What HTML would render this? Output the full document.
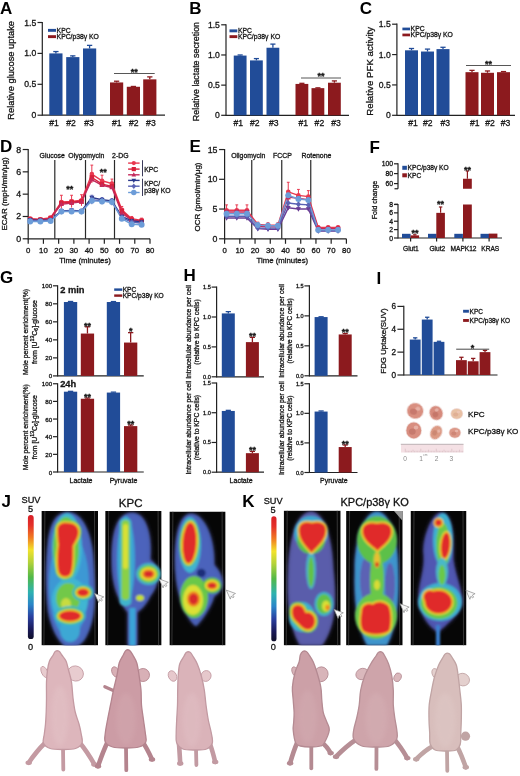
<!DOCTYPE html>
<html><head><meta charset="utf-8"><title>Figure</title>
<style>html,body{margin:0;padding:0;background:#fff;}svg{display:block;font-family:'Liberation Sans', Arial, sans-serif;} text{stroke:#1a1a1a;stroke-width:0.3px;paint-order:stroke;}</style>
</head><body>
<svg width="520" height="776" viewBox="0 0 520 776">

<defs>
<linearGradient id="cbar" x1="0" y1="0" x2="0" y2="1">
 <stop offset="0" stop-color="#d81f26"/>
 <stop offset="0.08" stop-color="#e4302a"/>
 <stop offset="0.18" stop-color="#f07a22"/>
 <stop offset="0.28" stop-color="#f2e22c"/>
 <stop offset="0.38" stop-color="#b4d23a"/>
 <stop offset="0.50" stop-color="#52b848"/>
 <stop offset="0.62" stop-color="#2eb2b0"/>
 <stop offset="0.72" stop-color="#2a86c8"/>
 <stop offset="0.82" stop-color="#2a40a0"/>
 <stop offset="0.92" stop-color="#1a1a5a"/>
 <stop offset="1" stop-color="#10102a"/>
</linearGradient>
<filter id="bl1" x="-20%" y="-20%" width="140%" height="140%"><feGaussianBlur stdDeviation="1.1"/></filter>
<filter id="bl2" x="-20%" y="-20%" width="140%" height="140%"><feGaussianBlur stdDeviation="2.2"/></filter>
<filter id="bl05" x="-20%" y="-20%" width="140%" height="140%"><feGaussianBlur stdDeviation="0.6"/></filter>
</defs>

<rect width="520" height="776" fill="#fff"/>
<line x1="42.30" y1="21.90" x2="42.30" y2="115.80" stroke="#222" stroke-width="1.2"/>
<line x1="37.50" y1="115.20" x2="42.30" y2="115.20" stroke="#222" stroke-width="1.2"/>
<text x="36.20" y="115.20" font-size="8.6" text-anchor="end" dominant-baseline="central" fill="#141414">0</text>
<line x1="37.50" y1="84.30" x2="42.30" y2="84.30" stroke="#222" stroke-width="1.2"/>
<text x="36.20" y="84.30" font-size="8.6" text-anchor="end" dominant-baseline="central" fill="#141414">0.5</text>
<line x1="37.50" y1="53.40" x2="42.30" y2="53.40" stroke="#222" stroke-width="1.2"/>
<text x="36.20" y="53.40" font-size="8.6" text-anchor="end" dominant-baseline="central" fill="#141414">1.0</text>
<line x1="37.50" y1="22.50" x2="42.30" y2="22.50" stroke="#222" stroke-width="1.2"/>
<text x="36.20" y="22.50" font-size="8.6" text-anchor="end" dominant-baseline="central" fill="#141414">1.5</text>
<line x1="42.30" y1="115.20" x2="165.00" y2="115.20" stroke="#222" stroke-width="1.2"/>
<rect x="49.30" y="53.40" width="13.20" height="61.80" fill="#214c98"/>
<line x1="55.90" y1="51.55" x2="55.90" y2="53.40" stroke="#214c98" stroke-width="1.3"/>
<line x1="53.26" y1="51.55" x2="58.54" y2="51.55" stroke="#214c98" stroke-width="1.3"/>
<text x="54.10" y="123.10" font-size="8.6" text-anchor="middle" dominant-baseline="central" fill="#141414">#1</text>
<rect x="66.20" y="57.11" width="13.20" height="58.09" fill="#214c98"/>
<line x1="72.80" y1="55.87" x2="72.80" y2="57.11" stroke="#214c98" stroke-width="1.3"/>
<line x1="70.16" y1="55.87" x2="75.44" y2="55.87" stroke="#214c98" stroke-width="1.3"/>
<text x="71.10" y="123.10" font-size="8.6" text-anchor="middle" dominant-baseline="central" fill="#141414">#2</text>
<rect x="83.00" y="48.46" width="13.20" height="66.74" fill="#214c98"/>
<line x1="89.60" y1="45.37" x2="89.60" y2="48.46" stroke="#214c98" stroke-width="1.3"/>
<line x1="86.96" y1="45.37" x2="92.24" y2="45.37" stroke="#214c98" stroke-width="1.3"/>
<text x="89.00" y="123.10" font-size="8.6" text-anchor="middle" dominant-baseline="central" fill="#141414">#3</text>
<rect x="110.00" y="82.45" width="13.20" height="32.75" fill="#8c1a1e"/>
<line x1="116.60" y1="81.21" x2="116.60" y2="82.45" stroke="#8c1a1e" stroke-width="1.3"/>
<line x1="113.96" y1="81.21" x2="119.24" y2="81.21" stroke="#8c1a1e" stroke-width="1.3"/>
<text x="116.80" y="123.10" font-size="8.6" text-anchor="middle" dominant-baseline="central" fill="#141414">#1</text>
<rect x="126.80" y="86.77" width="13.20" height="28.43" fill="#8c1a1e"/>
<line x1="133.40" y1="86.46" x2="133.40" y2="86.77" stroke="#8c1a1e" stroke-width="1.3"/>
<line x1="130.76" y1="86.46" x2="136.04" y2="86.46" stroke="#8c1a1e" stroke-width="1.3"/>
<text x="133.80" y="123.10" font-size="8.6" text-anchor="middle" dominant-baseline="central" fill="#141414">#2</text>
<rect x="143.20" y="79.36" width="13.20" height="35.84" fill="#8c1a1e"/>
<line x1="149.80" y1="76.88" x2="149.80" y2="79.36" stroke="#8c1a1e" stroke-width="1.3"/>
<line x1="147.16" y1="76.88" x2="152.44" y2="76.88" stroke="#8c1a1e" stroke-width="1.3"/>
<text x="150.90" y="123.10" font-size="8.6" text-anchor="middle" dominant-baseline="central" fill="#141414">#3</text>
<line x1="114.00" y1="73.50" x2="154.70" y2="73.50" stroke="#444" stroke-width="0.9"/>
<text x="134.35" y="71.88" font-size="9" text-anchor="middle" dominant-baseline="central" font-weight="bold" fill="#111" class="st">**</text>
<text x="11.20" y="70.35" font-size="9.3" text-anchor="middle" dominant-baseline="central" fill="#141414" transform="rotate(-90 11.20 70.35)">Relative glucose uptake</text>
<rect x="48.00" y="28.90" width="8.00" height="2.90" fill="#214c98"/>
<text x="56.60" y="30.35" font-size="6.8" text-anchor="start" dominant-baseline="central" fill="#141414">KPC</text>
<rect x="48.00" y="35.20" width="8.00" height="2.90" fill="#8c1a1e"/>
<text x="56.60" y="36.65" font-size="6.8" text-anchor="start" dominant-baseline="central" fill="#141414">KPC/p38&#947; KO</text>
<text x="0" y="13.9" font-size="17" font-weight="bold" fill="#000" style="stroke:none">A</text>
<line x1="226.00" y1="24.20" x2="226.00" y2="115.90" stroke="#222" stroke-width="1.2"/>
<line x1="221.20" y1="115.30" x2="226.00" y2="115.30" stroke="#222" stroke-width="1.2"/>
<text x="219.90" y="115.30" font-size="8.6" text-anchor="end" dominant-baseline="central" fill="#141414">0</text>
<line x1="221.20" y1="85.13" x2="226.00" y2="85.13" stroke="#222" stroke-width="1.2"/>
<text x="219.90" y="85.13" font-size="8.6" text-anchor="end" dominant-baseline="central" fill="#141414">0.5</text>
<line x1="221.20" y1="54.97" x2="226.00" y2="54.97" stroke="#222" stroke-width="1.2"/>
<text x="219.90" y="54.97" font-size="8.6" text-anchor="end" dominant-baseline="central" fill="#141414">1.0</text>
<line x1="221.20" y1="24.80" x2="226.00" y2="24.80" stroke="#222" stroke-width="1.2"/>
<text x="219.90" y="24.80" font-size="8.6" text-anchor="end" dominant-baseline="central" fill="#141414">1.5</text>
<line x1="226.00" y1="115.30" x2="349.00" y2="115.30" stroke="#222" stroke-width="1.2"/>
<rect x="233.75" y="55.57" width="12.80" height="59.73" fill="#214c98"/>
<line x1="240.15" y1="54.97" x2="240.15" y2="55.57" stroke="#214c98" stroke-width="1.3"/>
<line x1="237.59" y1="54.97" x2="242.71" y2="54.97" stroke="#214c98" stroke-width="1.3"/>
<text x="238.30" y="123.10" font-size="8.6" text-anchor="middle" dominant-baseline="central" fill="#141414">#1</text>
<rect x="250.00" y="60.40" width="12.80" height="54.90" fill="#214c98"/>
<line x1="256.40" y1="58.59" x2="256.40" y2="60.40" stroke="#214c98" stroke-width="1.3"/>
<line x1="253.84" y1="58.59" x2="258.96" y2="58.59" stroke="#214c98" stroke-width="1.3"/>
<text x="254.70" y="123.10" font-size="8.6" text-anchor="middle" dominant-baseline="central" fill="#141414">#2</text>
<rect x="266.50" y="47.73" width="12.80" height="67.57" fill="#214c98"/>
<line x1="272.90" y1="44.11" x2="272.90" y2="47.73" stroke="#214c98" stroke-width="1.3"/>
<line x1="270.34" y1="44.11" x2="275.46" y2="44.11" stroke="#214c98" stroke-width="1.3"/>
<text x="273.70" y="123.10" font-size="8.6" text-anchor="middle" dominant-baseline="central" fill="#141414">#3</text>
<rect x="295.50" y="83.93" width="12.80" height="31.37" fill="#8c1a1e"/>
<line x1="301.90" y1="83.32" x2="301.90" y2="83.93" stroke="#8c1a1e" stroke-width="1.3"/>
<line x1="299.34" y1="83.32" x2="304.46" y2="83.32" stroke="#8c1a1e" stroke-width="1.3"/>
<text x="303.30" y="123.10" font-size="8.6" text-anchor="middle" dominant-baseline="central" fill="#141414">#1</text>
<rect x="311.50" y="88.15" width="12.80" height="27.15" fill="#8c1a1e"/>
<line x1="317.90" y1="87.85" x2="317.90" y2="88.15" stroke="#8c1a1e" stroke-width="1.3"/>
<line x1="315.34" y1="87.85" x2="320.46" y2="87.85" stroke="#8c1a1e" stroke-width="1.3"/>
<text x="319.40" y="123.10" font-size="8.6" text-anchor="middle" dominant-baseline="central" fill="#141414">#2</text>
<rect x="328.00" y="82.72" width="12.80" height="32.58" fill="#8c1a1e"/>
<line x1="334.40" y1="80.91" x2="334.40" y2="82.72" stroke="#8c1a1e" stroke-width="1.3"/>
<line x1="331.84" y1="80.91" x2="336.96" y2="80.91" stroke="#8c1a1e" stroke-width="1.3"/>
<text x="336.00" y="123.10" font-size="8.6" text-anchor="middle" dominant-baseline="central" fill="#141414">#3</text>
<line x1="301.00" y1="78.00" x2="341.00" y2="78.00" stroke="#444" stroke-width="0.9"/>
<text x="321.00" y="76.38" font-size="9" text-anchor="middle" dominant-baseline="central" font-weight="bold" fill="#111" class="st">**</text>
<text x="196.20" y="71.55" font-size="8.9" text-anchor="middle" dominant-baseline="central" fill="#141414" transform="rotate(-90 196.20 71.55)">Relative lactate secretion</text>
<rect x="229.50" y="29.40" width="7.80" height="2.90" fill="#214c98"/>
<text x="237.90" y="30.85" font-size="6.8" text-anchor="start" dominant-baseline="central" fill="#141414">KPC</text>
<rect x="229.50" y="35.20" width="7.80" height="2.90" fill="#8c1a1e"/>
<text x="237.90" y="36.65" font-size="6.8" text-anchor="start" dominant-baseline="central" fill="#141414">KPC/p38&#947; KO</text>
<text x="189.2" y="13.9" font-size="17" font-weight="bold" fill="#000" style="stroke:none">B</text>
<line x1="396.90" y1="23.60" x2="396.90" y2="115.90" stroke="#222" stroke-width="1.2"/>
<line x1="392.10" y1="115.30" x2="396.90" y2="115.30" stroke="#222" stroke-width="1.2"/>
<text x="390.80" y="115.30" font-size="8.6" text-anchor="end" dominant-baseline="central" fill="#141414">0</text>
<line x1="392.10" y1="84.93" x2="396.90" y2="84.93" stroke="#222" stroke-width="1.2"/>
<text x="390.80" y="84.93" font-size="8.6" text-anchor="end" dominant-baseline="central" fill="#141414">0.5</text>
<line x1="392.10" y1="54.57" x2="396.90" y2="54.57" stroke="#222" stroke-width="1.2"/>
<text x="390.80" y="54.57" font-size="8.6" text-anchor="end" dominant-baseline="central" fill="#141414">1.0</text>
<line x1="392.10" y1="24.20" x2="396.90" y2="24.20" stroke="#222" stroke-width="1.2"/>
<text x="390.80" y="24.20" font-size="8.6" text-anchor="end" dominant-baseline="central" fill="#141414">1.5</text>
<line x1="396.90" y1="115.30" x2="515.00" y2="115.30" stroke="#222" stroke-width="1.2"/>
<rect x="405.00" y="50.32" width="13.00" height="64.98" fill="#214c98"/>
<line x1="411.50" y1="48.49" x2="411.50" y2="50.32" stroke="#214c98" stroke-width="1.3"/>
<line x1="408.90" y1="48.49" x2="414.10" y2="48.49" stroke="#214c98" stroke-width="1.3"/>
<text x="413.00" y="123.10" font-size="8.6" text-anchor="middle" dominant-baseline="central" fill="#141414">#1</text>
<rect x="421.00" y="51.53" width="13.00" height="63.77" fill="#214c98"/>
<line x1="427.50" y1="49.10" x2="427.50" y2="51.53" stroke="#214c98" stroke-width="1.3"/>
<line x1="424.90" y1="49.10" x2="430.10" y2="49.10" stroke="#214c98" stroke-width="1.3"/>
<text x="427.70" y="123.10" font-size="8.6" text-anchor="middle" dominant-baseline="central" fill="#141414">#2</text>
<rect x="436.50" y="49.10" width="13.00" height="66.20" fill="#214c98"/>
<line x1="443.00" y1="47.28" x2="443.00" y2="49.10" stroke="#214c98" stroke-width="1.3"/>
<line x1="440.40" y1="47.28" x2="445.60" y2="47.28" stroke="#214c98" stroke-width="1.3"/>
<text x="445.30" y="123.10" font-size="8.6" text-anchor="middle" dominant-baseline="central" fill="#141414">#3</text>
<rect x="465.50" y="72.18" width="13.00" height="43.12" fill="#8c1a1e"/>
<line x1="472.00" y1="70.36" x2="472.00" y2="72.18" stroke="#8c1a1e" stroke-width="1.3"/>
<line x1="469.40" y1="70.36" x2="474.60" y2="70.36" stroke="#8c1a1e" stroke-width="1.3"/>
<text x="474.70" y="123.10" font-size="8.6" text-anchor="middle" dominant-baseline="central" fill="#141414">#1</text>
<rect x="481.00" y="72.79" width="13.00" height="42.51" fill="#8c1a1e"/>
<line x1="487.50" y1="70.96" x2="487.50" y2="72.79" stroke="#8c1a1e" stroke-width="1.3"/>
<line x1="484.90" y1="70.96" x2="490.10" y2="70.96" stroke="#8c1a1e" stroke-width="1.3"/>
<text x="490.00" y="123.10" font-size="8.6" text-anchor="middle" dominant-baseline="central" fill="#141414">#2</text>
<rect x="497.00" y="72.18" width="13.00" height="43.12" fill="#8c1a1e"/>
<line x1="503.50" y1="71.57" x2="503.50" y2="72.18" stroke="#8c1a1e" stroke-width="1.3"/>
<line x1="500.90" y1="71.57" x2="506.10" y2="71.57" stroke="#8c1a1e" stroke-width="1.3"/>
<text x="505.60" y="123.10" font-size="8.6" text-anchor="middle" dominant-baseline="central" fill="#141414">#3</text>
<line x1="466.00" y1="65.50" x2="511.00" y2="65.50" stroke="#444" stroke-width="0.9"/>
<text x="488.50" y="63.88" font-size="9" text-anchor="middle" dominant-baseline="central" font-weight="bold" fill="#111" class="st">**</text>
<text x="369.20" y="71.25" font-size="9.7" text-anchor="middle" dominant-baseline="central" fill="#141414" transform="rotate(-90 369.20 71.25)">Relative PFK activity</text>
<rect x="402.40" y="27.60" width="7.60" height="2.70" fill="#214c98"/>
<text x="410.60" y="28.95" font-size="6.8" text-anchor="start" dominant-baseline="central" fill="#141414">KPC</text>
<rect x="402.40" y="33.60" width="7.60" height="2.70" fill="#8c1a1e"/>
<text x="410.60" y="34.95" font-size="6.8" text-anchor="start" dominant-baseline="central" fill="#141414">KPC/p38&#947; KO</text>
<text x="359.8" y="13.9" font-size="17" font-weight="bold" fill="#000" style="stroke:none">C</text>
<line x1="28.20" y1="148.92" x2="28.20" y2="239.40" stroke="#222" stroke-width="1.2"/>
<line x1="22.70" y1="238.80" x2="28.20" y2="238.80" stroke="#222" stroke-width="1.2"/>
<text x="21.10" y="238.80" font-size="8.8" text-anchor="end" dominant-baseline="central" fill="#141414">0</text>
<line x1="22.70" y1="216.48" x2="28.20" y2="216.48" stroke="#222" stroke-width="1.2"/>
<text x="21.10" y="216.48" font-size="8.8" text-anchor="end" dominant-baseline="central" fill="#141414">2</text>
<line x1="22.70" y1="194.16" x2="28.20" y2="194.16" stroke="#222" stroke-width="1.2"/>
<text x="21.10" y="194.16" font-size="8.8" text-anchor="end" dominant-baseline="central" fill="#141414">4</text>
<line x1="22.70" y1="171.84" x2="28.20" y2="171.84" stroke="#222" stroke-width="1.2"/>
<text x="21.10" y="171.84" font-size="8.8" text-anchor="end" dominant-baseline="central" fill="#141414">6</text>
<line x1="22.70" y1="149.52" x2="28.20" y2="149.52" stroke="#222" stroke-width="1.2"/>
<text x="21.10" y="149.52" font-size="8.8" text-anchor="end" dominant-baseline="central" fill="#141414">8</text>
<line x1="28.20" y1="238.80" x2="150.00" y2="238.80" stroke="#222" stroke-width="1.2"/>
<line x1="28.20" y1="238.80" x2="28.20" y2="243.80" stroke="#222" stroke-width="1.2"/>
<text x="28.20" y="250.00" font-size="7.8" text-anchor="middle" dominant-baseline="central" fill="#141414">0</text>
<line x1="43.42" y1="238.80" x2="43.42" y2="243.80" stroke="#222" stroke-width="1.2"/>
<text x="43.42" y="250.00" font-size="7.8" text-anchor="middle" dominant-baseline="central" fill="#141414">10</text>
<line x1="58.65" y1="238.80" x2="58.65" y2="243.80" stroke="#222" stroke-width="1.2"/>
<text x="58.65" y="250.00" font-size="7.8" text-anchor="middle" dominant-baseline="central" fill="#141414">20</text>
<line x1="73.88" y1="238.80" x2="73.88" y2="243.80" stroke="#222" stroke-width="1.2"/>
<text x="73.88" y="250.00" font-size="7.8" text-anchor="middle" dominant-baseline="central" fill="#141414">30</text>
<line x1="89.10" y1="238.80" x2="89.10" y2="243.80" stroke="#222" stroke-width="1.2"/>
<text x="89.10" y="250.00" font-size="7.8" text-anchor="middle" dominant-baseline="central" fill="#141414">40</text>
<line x1="104.33" y1="238.80" x2="104.33" y2="243.80" stroke="#222" stroke-width="1.2"/>
<text x="104.33" y="250.00" font-size="7.8" text-anchor="middle" dominant-baseline="central" fill="#141414">50</text>
<line x1="119.55" y1="238.80" x2="119.55" y2="243.80" stroke="#222" stroke-width="1.2"/>
<text x="119.55" y="250.00" font-size="7.8" text-anchor="middle" dominant-baseline="central" fill="#141414">60</text>
<line x1="134.78" y1="238.80" x2="134.78" y2="243.80" stroke="#222" stroke-width="1.2"/>
<text x="134.78" y="250.00" font-size="7.8" text-anchor="middle" dominant-baseline="central" fill="#141414">70</text>
<line x1="150.00" y1="238.80" x2="150.00" y2="243.80" stroke="#222" stroke-width="1.2"/>
<text x="150.00" y="250.00" font-size="7.8" text-anchor="middle" dominant-baseline="central" fill="#141414">80</text>
<text x="85.10" y="260.90" font-size="7.8" text-anchor="middle" dominant-baseline="central" fill="#141414">Time (minutes)</text>
<line x1="54.80" y1="160.00" x2="54.80" y2="238.80" stroke="#2a2a2a" stroke-width="1.2"/>
<line x1="85.50" y1="160.00" x2="85.50" y2="238.80" stroke="#2a2a2a" stroke-width="1.2"/>
<line x1="114.50" y1="160.00" x2="114.50" y2="238.80" stroke="#2a2a2a" stroke-width="1.2"/>
<text x="52.25" y="155.00" font-size="6.9" text-anchor="middle" dominant-baseline="central" fill="#141414">Glucose</text>
<text x="86.30" y="155.00" font-size="6.9" text-anchor="middle" dominant-baseline="central" fill="#141414">Olygomycin</text>
<text x="120.30" y="155.00" font-size="6.9" text-anchor="middle" dominant-baseline="central" fill="#141414">2-DG</text>
<polyline points="30.18,218.71 40.38,219.27 50.58,217.60 61.39,201.97 71.59,201.41 81.49,200.30 91.84,174.07 102.04,180.77 111.94,183.56 121.83,209.78 131.73,218.71 141.63,220.39" fill="none" stroke="#e8384f" stroke-width="1.4"/>
<polyline points="30.18,219.27 40.38,219.83 50.58,218.15 61.39,203.09 71.59,201.97 81.49,201.41 91.84,177.42 102.04,184.12 111.94,186.35 121.83,210.90 131.73,219.83 141.63,220.94" fill="none" stroke="#d8203a" stroke-width="1.4"/>
<polyline points="30.18,219.83 40.38,219.83 50.58,218.71 61.39,204.20 71.59,203.09 81.49,201.97 91.84,179.65 102.04,185.23 111.94,187.46 121.83,213.13 131.73,220.39 141.63,221.50" fill="none" stroke="#c42a5c" stroke-width="1.4"/>
<polyline points="30.18,219.83 40.38,220.39 50.58,219.83 61.39,210.90 71.59,210.34 81.49,210.90 91.84,197.51 102.04,199.74 111.94,200.86 121.83,216.48 131.73,220.94 141.63,222.06" fill="none" stroke="#2c3a8c" stroke-width="1.4"/>
<polyline points="30.18,220.39 40.38,220.94 50.58,220.39 61.39,211.46 71.59,210.90 81.49,211.46 91.84,199.74 102.04,200.86 111.94,201.97 121.83,217.60 131.73,222.06 141.63,223.18" fill="none" stroke="#5a62b4" stroke-width="1.4"/>
<polyline points="30.18,221.50 40.38,221.50 50.58,220.94 61.39,211.46 71.59,211.46 81.49,211.46 91.84,200.86 102.04,201.41 111.94,201.97 121.83,218.71 131.73,224.29 141.63,224.85" fill="none" stroke="#6c9cd8" stroke-width="1.4"/>
<line x1="30.18" y1="217.04" x2="30.18" y2="220.39" stroke="#e8384f" stroke-width="1.0"/>
<line x1="28.78" y1="217.04" x2="31.58" y2="217.04" stroke="#e8384f" stroke-width="1.0"/>
<circle cx="30.18" cy="218.71" r="2.3" fill="#e8384f"/>
<line x1="40.38" y1="218.15" x2="40.38" y2="220.39" stroke="#e8384f" stroke-width="1.0"/>
<line x1="38.98" y1="218.15" x2="41.78" y2="218.15" stroke="#e8384f" stroke-width="1.0"/>
<circle cx="40.38" cy="219.27" r="2.3" fill="#e8384f"/>
<line x1="50.58" y1="216.48" x2="50.58" y2="218.71" stroke="#e8384f" stroke-width="1.0"/>
<line x1="49.18" y1="216.48" x2="51.98" y2="216.48" stroke="#e8384f" stroke-width="1.0"/>
<circle cx="50.58" cy="217.60" r="2.3" fill="#e8384f"/>
<line x1="61.39" y1="195.28" x2="61.39" y2="208.67" stroke="#e8384f" stroke-width="1.0"/>
<line x1="59.99" y1="195.28" x2="62.79" y2="195.28" stroke="#e8384f" stroke-width="1.0"/>
<circle cx="61.39" cy="201.97" r="2.3" fill="#e8384f"/>
<line x1="71.59" y1="195.28" x2="71.59" y2="207.55" stroke="#e8384f" stroke-width="1.0"/>
<line x1="70.19" y1="195.28" x2="72.99" y2="195.28" stroke="#e8384f" stroke-width="1.0"/>
<circle cx="71.59" cy="201.41" r="2.3" fill="#e8384f"/>
<line x1="81.49" y1="194.72" x2="81.49" y2="205.88" stroke="#e8384f" stroke-width="1.0"/>
<line x1="80.09" y1="194.72" x2="82.89" y2="194.72" stroke="#e8384f" stroke-width="1.0"/>
<circle cx="81.49" cy="200.30" r="2.3" fill="#e8384f"/>
<line x1="91.84" y1="165.14" x2="91.84" y2="183.00" stroke="#e8384f" stroke-width="1.0"/>
<line x1="90.44" y1="165.14" x2="93.24" y2="165.14" stroke="#e8384f" stroke-width="1.0"/>
<circle cx="91.84" cy="174.07" r="2.3" fill="#e8384f"/>
<line x1="102.04" y1="175.19" x2="102.04" y2="186.35" stroke="#e8384f" stroke-width="1.0"/>
<line x1="100.64" y1="175.19" x2="103.44" y2="175.19" stroke="#e8384f" stroke-width="1.0"/>
<circle cx="102.04" cy="180.77" r="2.3" fill="#e8384f"/>
<line x1="111.94" y1="179.09" x2="111.94" y2="188.02" stroke="#e8384f" stroke-width="1.0"/>
<line x1="110.54" y1="179.09" x2="113.34" y2="179.09" stroke="#e8384f" stroke-width="1.0"/>
<circle cx="111.94" cy="183.56" r="2.3" fill="#e8384f"/>
<line x1="121.83" y1="206.44" x2="121.83" y2="213.13" stroke="#e8384f" stroke-width="1.0"/>
<line x1="120.43" y1="206.44" x2="123.23" y2="206.44" stroke="#e8384f" stroke-width="1.0"/>
<circle cx="121.83" cy="209.78" r="2.3" fill="#e8384f"/>
<line x1="131.73" y1="216.48" x2="131.73" y2="220.94" stroke="#e8384f" stroke-width="1.0"/>
<line x1="130.33" y1="216.48" x2="133.13" y2="216.48" stroke="#e8384f" stroke-width="1.0"/>
<circle cx="131.73" cy="218.71" r="2.3" fill="#e8384f"/>
<line x1="141.63" y1="218.15" x2="141.63" y2="222.62" stroke="#e8384f" stroke-width="1.0"/>
<line x1="140.23" y1="218.15" x2="143.03" y2="218.15" stroke="#e8384f" stroke-width="1.0"/>
<circle cx="141.63" cy="220.39" r="2.3" fill="#e8384f"/>
<rect x="27.88" y="216.97" width="4.60" height="4.60" fill="#d8203a"/>
<rect x="38.08" y="217.53" width="4.60" height="4.60" fill="#d8203a"/>
<rect x="48.28" y="215.85" width="4.60" height="4.60" fill="#d8203a"/>
<rect x="59.09" y="200.79" width="4.60" height="4.60" fill="#d8203a"/>
<rect x="69.29" y="199.67" width="4.60" height="4.60" fill="#d8203a"/>
<rect x="79.19" y="199.11" width="4.60" height="4.60" fill="#d8203a"/>
<rect x="89.54" y="175.12" width="4.60" height="4.60" fill="#d8203a"/>
<rect x="99.74" y="181.82" width="4.60" height="4.60" fill="#d8203a"/>
<rect x="109.64" y="184.05" width="4.60" height="4.60" fill="#d8203a"/>
<rect x="119.53" y="208.60" width="4.60" height="4.60" fill="#d8203a"/>
<rect x="129.43" y="217.53" width="4.60" height="4.60" fill="#d8203a"/>
<rect x="139.33" y="218.64" width="4.60" height="4.60" fill="#d8203a"/>
<polygon points="30.18,217.07 32.71,221.67 27.65,221.67" fill="#c42a5c"/>
<polygon points="40.38,217.07 42.91,221.67 37.85,221.67" fill="#c42a5c"/>
<polygon points="50.58,215.95 53.11,220.55 48.05,220.55" fill="#c42a5c"/>
<polygon points="61.39,201.44 63.92,206.04 58.86,206.04" fill="#c42a5c"/>
<polygon points="71.59,200.33 74.12,204.93 69.06,204.93" fill="#c42a5c"/>
<polygon points="81.49,199.21 84.02,203.81 78.96,203.81" fill="#c42a5c"/>
<polygon points="91.84,176.89 94.37,181.49 89.31,181.49" fill="#c42a5c"/>
<polygon points="102.04,182.47 104.57,187.07 99.51,187.07" fill="#c42a5c"/>
<polygon points="111.94,184.70 114.47,189.30 109.41,189.30" fill="#c42a5c"/>
<polygon points="121.83,210.37 124.36,214.97 119.30,214.97" fill="#c42a5c"/>
<polygon points="131.73,217.63 134.26,222.23 129.20,222.23" fill="#c42a5c"/>
<polygon points="141.63,218.74 144.16,223.34 139.10,223.34" fill="#c42a5c"/>
<polygon points="30.18,222.59 32.71,217.99 27.65,217.99" fill="#2c3a8c"/>
<polygon points="40.38,223.15 42.91,218.55 37.85,218.55" fill="#2c3a8c"/>
<polygon points="50.58,222.59 53.11,217.99 48.05,217.99" fill="#2c3a8c"/>
<polygon points="61.39,213.66 63.92,209.06 58.86,209.06" fill="#2c3a8c"/>
<polygon points="71.59,213.10 74.12,208.50 69.06,208.50" fill="#2c3a8c"/>
<polygon points="81.49,213.66 84.02,209.06 78.96,209.06" fill="#2c3a8c"/>
<polygon points="91.84,200.27 94.37,195.67 89.31,195.67" fill="#2c3a8c"/>
<polygon points="102.04,202.50 104.57,197.90 99.51,197.90" fill="#2c3a8c"/>
<polygon points="111.94,203.62 114.47,199.02 109.41,199.02" fill="#2c3a8c"/>
<polygon points="121.83,219.24 124.36,214.64 119.30,214.64" fill="#2c3a8c"/>
<polygon points="131.73,223.70 134.26,219.10 129.20,219.10" fill="#2c3a8c"/>
<polygon points="141.63,224.82 144.16,220.22 139.10,220.22" fill="#2c3a8c"/>
<line x1="30.18" y1="219.27" x2="30.18" y2="221.50" stroke="#5a62b4" stroke-width="1.0"/>
<line x1="28.78" y1="219.27" x2="31.58" y2="219.27" stroke="#5a62b4" stroke-width="1.0"/>
<polygon points="30.18,217.40 32.71,220.39 30.18,223.38 27.65,220.39" fill="#5a62b4"/>
<line x1="40.38" y1="219.83" x2="40.38" y2="222.06" stroke="#5a62b4" stroke-width="1.0"/>
<line x1="38.98" y1="219.83" x2="41.78" y2="219.83" stroke="#5a62b4" stroke-width="1.0"/>
<polygon points="40.38,217.95 42.91,220.94 40.38,223.93 37.85,220.94" fill="#5a62b4"/>
<line x1="50.58" y1="219.27" x2="50.58" y2="221.50" stroke="#5a62b4" stroke-width="1.0"/>
<line x1="49.18" y1="219.27" x2="51.98" y2="219.27" stroke="#5a62b4" stroke-width="1.0"/>
<polygon points="50.58,217.40 53.11,220.39 50.58,223.38 48.05,220.39" fill="#5a62b4"/>
<line x1="61.39" y1="209.23" x2="61.39" y2="213.69" stroke="#5a62b4" stroke-width="1.0"/>
<line x1="59.99" y1="209.23" x2="62.79" y2="209.23" stroke="#5a62b4" stroke-width="1.0"/>
<polygon points="61.39,208.47 63.92,211.46 61.39,214.45 58.86,211.46" fill="#5a62b4"/>
<line x1="71.59" y1="208.67" x2="71.59" y2="213.13" stroke="#5a62b4" stroke-width="1.0"/>
<line x1="70.19" y1="208.67" x2="72.99" y2="208.67" stroke="#5a62b4" stroke-width="1.0"/>
<polygon points="71.59,207.91 74.12,210.90 71.59,213.89 69.06,210.90" fill="#5a62b4"/>
<line x1="81.49" y1="209.23" x2="81.49" y2="213.69" stroke="#5a62b4" stroke-width="1.0"/>
<line x1="80.09" y1="209.23" x2="82.89" y2="209.23" stroke="#5a62b4" stroke-width="1.0"/>
<polygon points="81.49,208.47 84.02,211.46 81.49,214.45 78.96,211.46" fill="#5a62b4"/>
<line x1="91.84" y1="195.28" x2="91.84" y2="204.20" stroke="#5a62b4" stroke-width="1.0"/>
<line x1="90.44" y1="195.28" x2="93.24" y2="195.28" stroke="#5a62b4" stroke-width="1.0"/>
<polygon points="91.84,196.75 94.37,199.74 91.84,202.73 89.31,199.74" fill="#5a62b4"/>
<line x1="102.04" y1="197.51" x2="102.04" y2="204.20" stroke="#5a62b4" stroke-width="1.0"/>
<line x1="100.64" y1="197.51" x2="103.44" y2="197.51" stroke="#5a62b4" stroke-width="1.0"/>
<polygon points="102.04,197.87 104.57,200.86 102.04,203.85 99.51,200.86" fill="#5a62b4"/>
<line x1="111.94" y1="198.62" x2="111.94" y2="205.32" stroke="#5a62b4" stroke-width="1.0"/>
<line x1="110.54" y1="198.62" x2="113.34" y2="198.62" stroke="#5a62b4" stroke-width="1.0"/>
<polygon points="111.94,198.98 114.47,201.97 111.94,204.96 109.41,201.97" fill="#5a62b4"/>
<line x1="121.83" y1="215.36" x2="121.83" y2="219.83" stroke="#5a62b4" stroke-width="1.0"/>
<line x1="120.43" y1="215.36" x2="123.23" y2="215.36" stroke="#5a62b4" stroke-width="1.0"/>
<polygon points="121.83,214.61 124.36,217.60 121.83,220.59 119.30,217.60" fill="#5a62b4"/>
<line x1="131.73" y1="220.94" x2="131.73" y2="223.18" stroke="#5a62b4" stroke-width="1.0"/>
<line x1="130.33" y1="220.94" x2="133.13" y2="220.94" stroke="#5a62b4" stroke-width="1.0"/>
<polygon points="131.73,219.07 134.26,222.06 131.73,225.05 129.20,222.06" fill="#5a62b4"/>
<line x1="141.63" y1="222.06" x2="141.63" y2="224.29" stroke="#5a62b4" stroke-width="1.0"/>
<line x1="140.23" y1="222.06" x2="143.03" y2="222.06" stroke="#5a62b4" stroke-width="1.0"/>
<polygon points="141.63,220.19 144.16,223.18 141.63,226.17 139.10,223.18" fill="#5a62b4"/>
<circle cx="30.18" cy="221.50" r="2.9899999999999998" fill="#6c9cd8"/>
<circle cx="40.38" cy="221.50" r="2.9899999999999998" fill="#6c9cd8"/>
<circle cx="50.58" cy="220.94" r="2.9899999999999998" fill="#6c9cd8"/>
<circle cx="61.39" cy="211.46" r="2.9899999999999998" fill="#6c9cd8"/>
<circle cx="71.59" cy="211.46" r="2.9899999999999998" fill="#6c9cd8"/>
<circle cx="81.49" cy="211.46" r="2.9899999999999998" fill="#6c9cd8"/>
<circle cx="91.84" cy="200.86" r="2.9899999999999998" fill="#6c9cd8"/>
<circle cx="102.04" cy="201.41" r="2.9899999999999998" fill="#6c9cd8"/>
<circle cx="111.94" cy="201.97" r="2.9899999999999998" fill="#6c9cd8"/>
<circle cx="121.83" cy="218.71" r="2.9899999999999998" fill="#6c9cd8"/>
<circle cx="131.73" cy="224.29" r="2.9899999999999998" fill="#6c9cd8"/>
<circle cx="141.63" cy="224.85" r="2.9899999999999998" fill="#6c9cd8"/>
<text x="4.30" y="194.00" font-size="8.0" text-anchor="middle" dominant-baseline="central" fill="#141414" transform="rotate(-90 4.30 194.00)">ECAR (mpH/min/&#956;g)</text>
<text x="0" y="152.3" font-size="17" font-weight="bold" fill="#000" style="stroke:none">D</text>
<line x1="224.60" y1="148.95" x2="224.60" y2="239.40" stroke="#222" stroke-width="1.2"/>
<line x1="219.10" y1="238.80" x2="224.60" y2="238.80" stroke="#222" stroke-width="1.2"/>
<text x="217.50" y="238.80" font-size="8.8" text-anchor="end" dominant-baseline="central" fill="#141414">0</text>
<line x1="219.10" y1="209.05" x2="224.60" y2="209.05" stroke="#222" stroke-width="1.2"/>
<text x="217.50" y="209.05" font-size="8.8" text-anchor="end" dominant-baseline="central" fill="#141414">5</text>
<line x1="219.10" y1="179.30" x2="224.60" y2="179.30" stroke="#222" stroke-width="1.2"/>
<text x="217.50" y="179.30" font-size="8.8" text-anchor="end" dominant-baseline="central" fill="#141414">10</text>
<line x1="219.10" y1="149.55" x2="224.60" y2="149.55" stroke="#222" stroke-width="1.2"/>
<text x="217.50" y="149.55" font-size="8.8" text-anchor="end" dominant-baseline="central" fill="#141414">15</text>
<line x1="224.60" y1="238.80" x2="346.40" y2="238.80" stroke="#222" stroke-width="1.2"/>
<line x1="224.60" y1="238.80" x2="224.60" y2="243.80" stroke="#222" stroke-width="1.2"/>
<text x="224.60" y="250.00" font-size="7.8" text-anchor="middle" dominant-baseline="central" fill="#141414">0</text>
<line x1="239.82" y1="238.80" x2="239.82" y2="243.80" stroke="#222" stroke-width="1.2"/>
<text x="239.82" y="250.00" font-size="7.8" text-anchor="middle" dominant-baseline="central" fill="#141414">10</text>
<line x1="255.05" y1="238.80" x2="255.05" y2="243.80" stroke="#222" stroke-width="1.2"/>
<text x="255.05" y="250.00" font-size="7.8" text-anchor="middle" dominant-baseline="central" fill="#141414">20</text>
<line x1="270.27" y1="238.80" x2="270.27" y2="243.80" stroke="#222" stroke-width="1.2"/>
<text x="270.27" y="250.00" font-size="7.8" text-anchor="middle" dominant-baseline="central" fill="#141414">30</text>
<line x1="285.50" y1="238.80" x2="285.50" y2="243.80" stroke="#222" stroke-width="1.2"/>
<text x="285.50" y="250.00" font-size="7.8" text-anchor="middle" dominant-baseline="central" fill="#141414">40</text>
<line x1="300.73" y1="238.80" x2="300.73" y2="243.80" stroke="#222" stroke-width="1.2"/>
<text x="300.73" y="250.00" font-size="7.8" text-anchor="middle" dominant-baseline="central" fill="#141414">50</text>
<line x1="315.95" y1="238.80" x2="315.95" y2="243.80" stroke="#222" stroke-width="1.2"/>
<text x="315.95" y="250.00" font-size="7.8" text-anchor="middle" dominant-baseline="central" fill="#141414">60</text>
<line x1="331.18" y1="238.80" x2="331.18" y2="243.80" stroke="#222" stroke-width="1.2"/>
<text x="331.18" y="250.00" font-size="7.8" text-anchor="middle" dominant-baseline="central" fill="#141414">70</text>
<line x1="346.40" y1="238.80" x2="346.40" y2="243.80" stroke="#222" stroke-width="1.2"/>
<text x="346.40" y="250.00" font-size="7.8" text-anchor="middle" dominant-baseline="central" fill="#141414">80</text>
<text x="282.30" y="260.90" font-size="7.8" text-anchor="middle" dominant-baseline="central" fill="#141414">Time (minutes)</text>
<line x1="251.75" y1="160.00" x2="251.75" y2="238.80" stroke="#2a2a2a" stroke-width="1.2"/>
<line x1="281.75" y1="160.00" x2="281.75" y2="238.80" stroke="#2a2a2a" stroke-width="1.2"/>
<line x1="310.75" y1="160.00" x2="310.75" y2="238.80" stroke="#2a2a2a" stroke-width="1.2"/>
<text x="248.25" y="155.00" font-size="6.9" text-anchor="middle" dominant-baseline="central" fill="#141414">Oligomycin</text>
<text x="282.40" y="155.00" font-size="6.9" text-anchor="middle" dominant-baseline="central" fill="#141414">FCCP</text>
<text x="316.40" y="155.00" font-size="6.9" text-anchor="middle" dominant-baseline="central" fill="#141414">Rotenone</text>
<polyline points="226.58,210.24 236.78,210.24 246.98,210.24 257.79,224.52 267.99,225.12 277.89,225.12 288.24,191.80 298.44,195.37 308.34,196.56 318.23,227.50 328.13,227.50 338.03,227.50" fill="none" stroke="#e8384f" stroke-width="1.4"/>
<polyline points="226.58,212.03 236.78,212.03 246.98,212.03 257.79,226.31 267.99,226.90 277.89,226.90 288.24,197.15 298.44,198.34 308.34,199.53 318.23,228.69 328.13,228.69 338.03,228.69" fill="none" stroke="#c42a5c" stroke-width="1.4"/>
<polyline points="226.58,217.98 236.78,217.98 246.98,217.98 257.79,228.69 267.99,229.28 277.89,229.28 288.24,207.86 298.44,209.05 308.34,209.05 318.23,231.06 328.13,231.06 338.03,231.06" fill="none" stroke="#6a3c94" stroke-width="1.4"/>
<polyline points="226.58,216.19 236.78,216.19 246.98,216.19 257.79,228.09 267.99,228.09 277.89,228.09 288.24,203.10 298.44,204.29 308.34,204.89 318.23,230.47 328.13,230.47 338.03,230.47" fill="none" stroke="#5a62b4" stroke-width="1.4"/>
<polyline points="226.58,213.81 236.78,213.81 246.98,213.81 257.79,225.12 267.99,225.71 277.89,225.71 288.24,195.37 298.44,198.94 308.34,200.12 318.23,229.88 328.13,229.88 338.03,229.88" fill="none" stroke="#6c9cd8" stroke-width="1.4"/>
<line x1="226.58" y1="204.89" x2="226.58" y2="215.59" stroke="#e8384f" stroke-width="1.0"/>
<line x1="225.18" y1="204.89" x2="227.98" y2="204.89" stroke="#e8384f" stroke-width="1.0"/>
<circle cx="226.58" cy="210.24" r="2.3" fill="#e8384f"/>
<line x1="236.78" y1="204.89" x2="236.78" y2="215.59" stroke="#e8384f" stroke-width="1.0"/>
<line x1="235.38" y1="204.89" x2="238.18" y2="204.89" stroke="#e8384f" stroke-width="1.0"/>
<circle cx="236.78" cy="210.24" r="2.3" fill="#e8384f"/>
<line x1="246.98" y1="204.89" x2="246.98" y2="215.59" stroke="#e8384f" stroke-width="1.0"/>
<line x1="245.58" y1="204.89" x2="248.38" y2="204.89" stroke="#e8384f" stroke-width="1.0"/>
<circle cx="246.98" cy="210.24" r="2.3" fill="#e8384f"/>
<line x1="257.79" y1="222.14" x2="257.79" y2="226.90" stroke="#e8384f" stroke-width="1.0"/>
<line x1="256.39" y1="222.14" x2="259.19" y2="222.14" stroke="#e8384f" stroke-width="1.0"/>
<circle cx="257.79" cy="224.52" r="2.3" fill="#e8384f"/>
<line x1="267.99" y1="222.74" x2="267.99" y2="227.50" stroke="#e8384f" stroke-width="1.0"/>
<line x1="266.59" y1="222.74" x2="269.39" y2="222.74" stroke="#e8384f" stroke-width="1.0"/>
<circle cx="267.99" cy="225.12" r="2.3" fill="#e8384f"/>
<line x1="277.89" y1="222.74" x2="277.89" y2="227.50" stroke="#e8384f" stroke-width="1.0"/>
<line x1="276.49" y1="222.74" x2="279.29" y2="222.74" stroke="#e8384f" stroke-width="1.0"/>
<circle cx="277.89" cy="225.12" r="2.3" fill="#e8384f"/>
<line x1="288.24" y1="182.28" x2="288.24" y2="201.32" stroke="#e8384f" stroke-width="1.0"/>
<line x1="286.84" y1="182.28" x2="289.64" y2="182.28" stroke="#e8384f" stroke-width="1.0"/>
<circle cx="288.24" cy="191.80" r="2.3" fill="#e8384f"/>
<line x1="298.44" y1="189.42" x2="298.44" y2="201.31" stroke="#e8384f" stroke-width="1.0"/>
<line x1="297.04" y1="189.42" x2="299.84" y2="189.42" stroke="#e8384f" stroke-width="1.0"/>
<circle cx="298.44" cy="195.37" r="2.3" fill="#e8384f"/>
<line x1="308.34" y1="190.61" x2="308.34" y2="202.50" stroke="#e8384f" stroke-width="1.0"/>
<line x1="306.94" y1="190.61" x2="309.74" y2="190.61" stroke="#e8384f" stroke-width="1.0"/>
<circle cx="308.34" cy="196.56" r="2.3" fill="#e8384f"/>
<line x1="318.23" y1="225.71" x2="318.23" y2="229.28" stroke="#e8384f" stroke-width="1.0"/>
<line x1="316.83" y1="225.71" x2="319.63" y2="225.71" stroke="#e8384f" stroke-width="1.0"/>
<circle cx="318.23" cy="227.50" r="2.3" fill="#e8384f"/>
<line x1="328.13" y1="225.71" x2="328.13" y2="229.28" stroke="#e8384f" stroke-width="1.0"/>
<line x1="326.73" y1="225.71" x2="329.53" y2="225.71" stroke="#e8384f" stroke-width="1.0"/>
<circle cx="328.13" cy="227.50" r="2.3" fill="#e8384f"/>
<line x1="338.03" y1="225.71" x2="338.03" y2="229.28" stroke="#e8384f" stroke-width="1.0"/>
<line x1="336.63" y1="225.71" x2="339.43" y2="225.71" stroke="#e8384f" stroke-width="1.0"/>
<circle cx="338.03" cy="227.50" r="2.3" fill="#e8384f"/>
<rect x="224.28" y="209.72" width="4.60" height="4.60" fill="#c42a5c"/>
<rect x="234.48" y="209.72" width="4.60" height="4.60" fill="#c42a5c"/>
<rect x="244.68" y="209.72" width="4.60" height="4.60" fill="#c42a5c"/>
<rect x="255.49" y="224.00" width="4.60" height="4.60" fill="#c42a5c"/>
<rect x="265.69" y="224.60" width="4.60" height="4.60" fill="#c42a5c"/>
<rect x="275.59" y="224.60" width="4.60" height="4.60" fill="#c42a5c"/>
<rect x="285.94" y="194.85" width="4.60" height="4.60" fill="#c42a5c"/>
<rect x="296.14" y="196.04" width="4.60" height="4.60" fill="#c42a5c"/>
<rect x="306.04" y="197.23" width="4.60" height="4.60" fill="#c42a5c"/>
<rect x="315.93" y="226.38" width="4.60" height="4.60" fill="#c42a5c"/>
<rect x="325.83" y="226.38" width="4.60" height="4.60" fill="#c42a5c"/>
<rect x="335.73" y="226.38" width="4.60" height="4.60" fill="#c42a5c"/>
<line x1="226.58" y1="216.19" x2="226.58" y2="219.76" stroke="#6a3c94" stroke-width="1.0"/>
<line x1="225.18" y1="216.19" x2="227.98" y2="216.19" stroke="#6a3c94" stroke-width="1.0"/>
<polygon points="226.58,220.74 229.11,216.14 224.05,216.14" fill="#6a3c94"/>
<line x1="236.78" y1="216.19" x2="236.78" y2="219.76" stroke="#6a3c94" stroke-width="1.0"/>
<line x1="235.38" y1="216.19" x2="238.18" y2="216.19" stroke="#6a3c94" stroke-width="1.0"/>
<polygon points="236.78,220.74 239.31,216.14 234.25,216.14" fill="#6a3c94"/>
<line x1="246.98" y1="216.19" x2="246.98" y2="219.76" stroke="#6a3c94" stroke-width="1.0"/>
<line x1="245.58" y1="216.19" x2="248.38" y2="216.19" stroke="#6a3c94" stroke-width="1.0"/>
<polygon points="246.98,220.74 249.51,216.14 244.45,216.14" fill="#6a3c94"/>
<line x1="257.79" y1="226.90" x2="257.79" y2="230.47" stroke="#6a3c94" stroke-width="1.0"/>
<line x1="256.39" y1="226.90" x2="259.19" y2="226.90" stroke="#6a3c94" stroke-width="1.0"/>
<polygon points="257.79,231.44 260.32,226.84 255.26,226.84" fill="#6a3c94"/>
<line x1="267.99" y1="227.50" x2="267.99" y2="231.06" stroke="#6a3c94" stroke-width="1.0"/>
<line x1="266.59" y1="227.50" x2="269.39" y2="227.50" stroke="#6a3c94" stroke-width="1.0"/>
<polygon points="267.99,232.04 270.52,227.44 265.46,227.44" fill="#6a3c94"/>
<line x1="277.89" y1="227.50" x2="277.89" y2="231.06" stroke="#6a3c94" stroke-width="1.0"/>
<line x1="276.49" y1="227.50" x2="279.29" y2="227.50" stroke="#6a3c94" stroke-width="1.0"/>
<polygon points="277.89,232.04 280.42,227.44 275.36,227.44" fill="#6a3c94"/>
<line x1="288.24" y1="206.08" x2="288.24" y2="209.65" stroke="#6a3c94" stroke-width="1.0"/>
<line x1="286.84" y1="206.08" x2="289.64" y2="206.08" stroke="#6a3c94" stroke-width="1.0"/>
<polygon points="288.24,210.62 290.77,206.02 285.71,206.02" fill="#6a3c94"/>
<line x1="298.44" y1="207.27" x2="298.44" y2="210.84" stroke="#6a3c94" stroke-width="1.0"/>
<line x1="297.04" y1="207.27" x2="299.84" y2="207.27" stroke="#6a3c94" stroke-width="1.0"/>
<polygon points="298.44,211.81 300.97,207.21 295.91,207.21" fill="#6a3c94"/>
<line x1="308.34" y1="207.27" x2="308.34" y2="210.84" stroke="#6a3c94" stroke-width="1.0"/>
<line x1="306.94" y1="207.27" x2="309.74" y2="207.27" stroke="#6a3c94" stroke-width="1.0"/>
<polygon points="308.34,211.81 310.87,207.21 305.81,207.21" fill="#6a3c94"/>
<line x1="318.23" y1="229.28" x2="318.23" y2="232.85" stroke="#6a3c94" stroke-width="1.0"/>
<line x1="316.83" y1="229.28" x2="319.63" y2="229.28" stroke="#6a3c94" stroke-width="1.0"/>
<polygon points="318.23,233.82 320.76,229.22 315.70,229.22" fill="#6a3c94"/>
<line x1="328.13" y1="229.28" x2="328.13" y2="232.85" stroke="#6a3c94" stroke-width="1.0"/>
<line x1="326.73" y1="229.28" x2="329.53" y2="229.28" stroke="#6a3c94" stroke-width="1.0"/>
<polygon points="328.13,233.82 330.66,229.22 325.60,229.22" fill="#6a3c94"/>
<line x1="338.03" y1="229.28" x2="338.03" y2="232.85" stroke="#6a3c94" stroke-width="1.0"/>
<line x1="336.63" y1="229.28" x2="339.43" y2="229.28" stroke="#6a3c94" stroke-width="1.0"/>
<polygon points="338.03,233.82 340.56,229.22 335.50,229.22" fill="#6a3c94"/>
<polygon points="226.58,213.20 229.11,216.19 226.58,219.18 224.05,216.19" fill="#5a62b4"/>
<polygon points="236.78,213.20 239.31,216.19 236.78,219.18 234.25,216.19" fill="#5a62b4"/>
<polygon points="246.98,213.20 249.51,216.19 246.98,219.18 244.45,216.19" fill="#5a62b4"/>
<polygon points="257.79,225.10 260.32,228.09 257.79,231.08 255.26,228.09" fill="#5a62b4"/>
<polygon points="267.99,225.10 270.52,228.09 267.99,231.08 265.46,228.09" fill="#5a62b4"/>
<polygon points="277.89,225.10 280.42,228.09 277.89,231.08 275.36,228.09" fill="#5a62b4"/>
<polygon points="288.24,200.11 290.77,203.10 288.24,206.09 285.71,203.10" fill="#5a62b4"/>
<polygon points="298.44,201.30 300.97,204.29 298.44,207.28 295.91,204.29" fill="#5a62b4"/>
<polygon points="308.34,201.90 310.87,204.89 308.34,207.88 305.81,204.89" fill="#5a62b4"/>
<polygon points="318.23,227.48 320.76,230.47 318.23,233.46 315.70,230.47" fill="#5a62b4"/>
<polygon points="328.13,227.48 330.66,230.47 328.13,233.46 325.60,230.47" fill="#5a62b4"/>
<polygon points="338.03,227.48 340.56,230.47 338.03,233.46 335.50,230.47" fill="#5a62b4"/>
<line x1="226.58" y1="211.43" x2="226.58" y2="216.19" stroke="#6c9cd8" stroke-width="1.0"/>
<line x1="225.18" y1="211.43" x2="227.98" y2="211.43" stroke="#6c9cd8" stroke-width="1.0"/>
<circle cx="226.58" cy="213.81" r="2.9899999999999998" fill="#6c9cd8"/>
<line x1="236.78" y1="211.43" x2="236.78" y2="216.19" stroke="#6c9cd8" stroke-width="1.0"/>
<line x1="235.38" y1="211.43" x2="238.18" y2="211.43" stroke="#6c9cd8" stroke-width="1.0"/>
<circle cx="236.78" cy="213.81" r="2.9899999999999998" fill="#6c9cd8"/>
<line x1="246.98" y1="211.43" x2="246.98" y2="216.19" stroke="#6c9cd8" stroke-width="1.0"/>
<line x1="245.58" y1="211.43" x2="248.38" y2="211.43" stroke="#6c9cd8" stroke-width="1.0"/>
<circle cx="246.98" cy="213.81" r="2.9899999999999998" fill="#6c9cd8"/>
<line x1="257.79" y1="222.74" x2="257.79" y2="227.50" stroke="#6c9cd8" stroke-width="1.0"/>
<line x1="256.39" y1="222.74" x2="259.19" y2="222.74" stroke="#6c9cd8" stroke-width="1.0"/>
<circle cx="257.79" cy="225.12" r="2.9899999999999998" fill="#6c9cd8"/>
<line x1="267.99" y1="223.33" x2="267.99" y2="228.09" stroke="#6c9cd8" stroke-width="1.0"/>
<line x1="266.59" y1="223.33" x2="269.39" y2="223.33" stroke="#6c9cd8" stroke-width="1.0"/>
<circle cx="267.99" cy="225.71" r="2.9899999999999998" fill="#6c9cd8"/>
<line x1="277.89" y1="223.33" x2="277.89" y2="228.09" stroke="#6c9cd8" stroke-width="1.0"/>
<line x1="276.49" y1="223.33" x2="279.29" y2="223.33" stroke="#6c9cd8" stroke-width="1.0"/>
<circle cx="277.89" cy="225.71" r="2.9899999999999998" fill="#6c9cd8"/>
<line x1="288.24" y1="192.99" x2="288.24" y2="197.75" stroke="#6c9cd8" stroke-width="1.0"/>
<line x1="286.84" y1="192.99" x2="289.64" y2="192.99" stroke="#6c9cd8" stroke-width="1.0"/>
<circle cx="288.24" cy="195.37" r="2.9899999999999998" fill="#6c9cd8"/>
<line x1="298.44" y1="196.56" x2="298.44" y2="201.31" stroke="#6c9cd8" stroke-width="1.0"/>
<line x1="297.04" y1="196.56" x2="299.84" y2="196.56" stroke="#6c9cd8" stroke-width="1.0"/>
<circle cx="298.44" cy="198.94" r="2.9899999999999998" fill="#6c9cd8"/>
<line x1="308.34" y1="197.75" x2="308.34" y2="202.50" stroke="#6c9cd8" stroke-width="1.0"/>
<line x1="306.94" y1="197.75" x2="309.74" y2="197.75" stroke="#6c9cd8" stroke-width="1.0"/>
<circle cx="308.34" cy="200.12" r="2.9899999999999998" fill="#6c9cd8"/>
<line x1="318.23" y1="227.50" x2="318.23" y2="232.25" stroke="#6c9cd8" stroke-width="1.0"/>
<line x1="316.83" y1="227.50" x2="319.63" y2="227.50" stroke="#6c9cd8" stroke-width="1.0"/>
<circle cx="318.23" cy="229.88" r="2.9899999999999998" fill="#6c9cd8"/>
<line x1="328.13" y1="227.50" x2="328.13" y2="232.25" stroke="#6c9cd8" stroke-width="1.0"/>
<line x1="326.73" y1="227.50" x2="329.53" y2="227.50" stroke="#6c9cd8" stroke-width="1.0"/>
<circle cx="328.13" cy="229.88" r="2.9899999999999998" fill="#6c9cd8"/>
<line x1="338.03" y1="227.50" x2="338.03" y2="232.25" stroke="#6c9cd8" stroke-width="1.0"/>
<line x1="336.63" y1="227.50" x2="339.43" y2="227.50" stroke="#6c9cd8" stroke-width="1.0"/>
<circle cx="338.03" cy="229.88" r="2.9899999999999998" fill="#6c9cd8"/>
<text x="197.80" y="197.00" font-size="8.0" text-anchor="middle" dominant-baseline="central" fill="#141414" transform="rotate(-90 197.80 197.00)">OCR (pmol/min/&#956;g)</text>
<text x="189.5" y="152.3" font-size="17" font-weight="bold" fill="#000" style="stroke:none">E</text>
<text x="69.80" y="189.48" font-size="9" text-anchor="middle" dominant-baseline="central" font-weight="bold" fill="#111" class="st">**</text>
<text x="103.20" y="171.98" font-size="9" text-anchor="middle" dominant-baseline="central" font-weight="bold" fill="#111" class="st">**</text>
<line x1="128.10" y1="163.10" x2="139.60" y2="163.10" stroke="#e8384f" stroke-width="1.4"/>
<circle cx="133.80" cy="163.10" r="2.1" fill="#e8384f"/>
<line x1="128.10" y1="169.10" x2="139.60" y2="169.10" stroke="#d8203a" stroke-width="1.4"/>
<rect x="131.70" y="167.00" width="4.20" height="4.20" fill="#d8203a"/>
<line x1="128.10" y1="174.80" x2="139.60" y2="174.80" stroke="#c42a5c" stroke-width="1.4"/>
<polygon points="133.80,172.28 136.11,176.48 131.49,176.48" fill="#c42a5c"/>
<line x1="128.10" y1="180.40" x2="139.60" y2="180.40" stroke="#2c3a8c" stroke-width="1.4"/>
<polygon points="133.80,182.92 136.11,178.72 131.49,178.72" fill="#2c3a8c"/>
<line x1="128.10" y1="186.20" x2="139.60" y2="186.20" stroke="#5a62b4" stroke-width="1.4"/>
<polygon points="133.80,183.47 136.11,186.20 133.80,188.93 131.49,186.20" fill="#5a62b4"/>
<line x1="128.10" y1="192.50" x2="139.60" y2="192.50" stroke="#6c9cd8" stroke-width="1.4"/>
<circle cx="133.80" cy="192.50" r="2.7300000000000004" fill="#6c9cd8"/>
<line x1="142.50" y1="160.20" x2="142.50" y2="176.30" stroke="#3a3a5a" stroke-width="1.0"/>
<line x1="142.50" y1="178.70" x2="142.50" y2="196.00" stroke="#3a3a5a" stroke-width="1.0"/>
<text x="144.20" y="169.40" font-size="6.8" text-anchor="start" dominant-baseline="central" fill="#141414">KPC</text>
<text x="144.20" y="183.80" font-size="6.8" text-anchor="start" dominant-baseline="central" fill="#141414">KPC/</text>
<text x="144.20" y="190.80" font-size="6.8" text-anchor="start" dominant-baseline="central" fill="#141414">p38&#947; KO</text>
<line x1="398.00" y1="163.30" x2="398.00" y2="188.75" stroke="#222" stroke-width="1.2"/>
<line x1="394.50" y1="188.75" x2="398.00" y2="188.75" stroke="#222" stroke-width="1.2"/>
<line x1="394.00" y1="163.80" x2="398.00" y2="163.80" stroke="#222" stroke-width="1.2"/>
<text x="393.00" y="163.80" font-size="6.8" text-anchor="end" dominant-baseline="central" fill="#141414">100</text>
<line x1="394.00" y1="173.60" x2="398.00" y2="173.60" stroke="#222" stroke-width="1.2"/>
<text x="393.00" y="173.60" font-size="6.8" text-anchor="end" dominant-baseline="central" fill="#141414">80</text>
<line x1="394.00" y1="183.60" x2="398.00" y2="183.60" stroke="#222" stroke-width="1.2"/>
<text x="393.00" y="183.60" font-size="6.8" text-anchor="end" dominant-baseline="central" fill="#141414">60</text>
<line x1="398.00" y1="204.00" x2="398.00" y2="238.60" stroke="#222" stroke-width="1.2"/>
<line x1="394.50" y1="204.30" x2="398.00" y2="204.30" stroke="#222" stroke-width="1.2"/>
<line x1="394.00" y1="238.00" x2="398.00" y2="238.00" stroke="#222" stroke-width="1.2"/>
<text x="393.00" y="238.00" font-size="6.8" text-anchor="end" dominant-baseline="central" fill="#141414">0</text>
<line x1="394.00" y1="229.62" x2="398.00" y2="229.62" stroke="#222" stroke-width="1.2"/>
<text x="393.00" y="229.62" font-size="6.8" text-anchor="end" dominant-baseline="central" fill="#141414">2</text>
<line x1="394.00" y1="221.24" x2="398.00" y2="221.24" stroke="#222" stroke-width="1.2"/>
<text x="393.00" y="221.24" font-size="6.8" text-anchor="end" dominant-baseline="central" fill="#141414">4</text>
<line x1="394.00" y1="212.86" x2="398.00" y2="212.86" stroke="#222" stroke-width="1.2"/>
<text x="393.00" y="212.86" font-size="6.8" text-anchor="end" dominant-baseline="central" fill="#141414">6</text>
<line x1="394.00" y1="204.48" x2="398.00" y2="204.48" stroke="#222" stroke-width="1.2"/>
<text x="393.00" y="204.48" font-size="6.8" text-anchor="end" dominant-baseline="central" fill="#141414">8</text>
<line x1="398.00" y1="238.00" x2="502.00" y2="238.00" stroke="#222" stroke-width="1.2"/>
<line x1="410.60" y1="238.00" x2="410.60" y2="241.50" stroke="#222" stroke-width="1.2"/>
<line x1="436.60" y1="238.00" x2="436.60" y2="241.50" stroke="#222" stroke-width="1.2"/>
<line x1="462.90" y1="238.00" x2="462.90" y2="241.50" stroke="#222" stroke-width="1.2"/>
<line x1="489.10" y1="238.00" x2="489.10" y2="241.50" stroke="#222" stroke-width="1.2"/>
<rect x="402.00" y="233.81" width="8.60" height="4.19" fill="#214c98"/>
<rect x="410.50" y="235.40" width="8.60" height="2.60" fill="#8c1a1e"/>
<line x1="414.80" y1="234.77" x2="414.80" y2="235.40" stroke="#8c1a1e" stroke-width="1.2"/>
<line x1="413.10" y1="234.77" x2="416.50" y2="234.77" stroke="#8c1a1e" stroke-width="1.2"/>
<rect x="428.00" y="233.81" width="8.60" height="4.19" fill="#214c98"/>
<rect x="436.30" y="212.86" width="8.60" height="25.14" fill="#8c1a1e"/>
<line x1="440.60" y1="206.99" x2="440.60" y2="212.86" stroke="#8c1a1e" stroke-width="1.2"/>
<line x1="438.90" y1="206.99" x2="442.30" y2="206.99" stroke="#8c1a1e" stroke-width="1.2"/>
<rect x="454.30" y="233.81" width="8.60" height="4.19" fill="#214c98"/>
<rect x="463.00" y="204.50" width="8.80" height="33.50" fill="#8c1a1e"/>
<rect x="463.00" y="178.75" width="8.80" height="10.00" fill="#8c1a1e"/>
<line x1="467.40" y1="171.00" x2="467.40" y2="178.75" stroke="#8c1a1e" stroke-width="1.2"/>
<line x1="465.70" y1="171.00" x2="469.10" y2="171.00" stroke="#8c1a1e" stroke-width="1.2"/>
<rect x="480.50" y="233.81" width="8.60" height="4.19" fill="#214c98"/>
<rect x="488.80" y="233.60" width="8.60" height="4.40" fill="#8c1a1e"/>
<text x="415.00" y="232.78" font-size="9" text-anchor="middle" dominant-baseline="central" font-weight="bold" fill="#111" class="st">**</text>
<text x="440.50" y="204.48" font-size="9" text-anchor="middle" dominant-baseline="central" font-weight="bold" fill="#111" class="st">**</text>
<text x="467.40" y="170.18" font-size="9" text-anchor="middle" dominant-baseline="central" font-weight="bold" fill="#111" class="st">**</text>
<text x="410.90" y="248.60" font-size="6.6" text-anchor="middle" dominant-baseline="central" fill="#141414">Glut1</text>
<text x="437.30" y="248.60" font-size="6.6" text-anchor="middle" dominant-baseline="central" fill="#141414">Glut2</text>
<text x="463.50" y="248.60" font-size="6.6" text-anchor="middle" dominant-baseline="central" fill="#141414">MAPK12</text>
<text x="490.30" y="248.60" font-size="6.6" text-anchor="middle" dominant-baseline="central" fill="#141414">KRAS</text>
<text x="374.00" y="200.00" font-size="7" text-anchor="middle" dominant-baseline="central" fill="#141414" transform="rotate(-90 374.00 200.00)">Fold change</text>
<rect x="402.30" y="165.80" width="4.60" height="4.00" fill="#214c98"/>
<text x="407.60" y="167.80" font-size="6.6" text-anchor="start" dominant-baseline="central" fill="#141414">KPC/p38&#947; KO</text>
<rect x="402.30" y="173.30" width="4.60" height="4.00" fill="#8c1a1e"/>
<text x="407.60" y="175.30" font-size="6.6" text-anchor="start" dominant-baseline="central" fill="#141414">KPC</text>
<text x="369.5" y="152.5" font-size="17" font-weight="bold" fill="#000" style="stroke:none">F</text>
<line x1="57.60" y1="285.20" x2="57.60" y2="376.50" stroke="#222" stroke-width="1.2"/>
<line x1="53.00" y1="375.90" x2="57.60" y2="375.90" stroke="#222" stroke-width="1.2"/>
<text x="52.20" y="375.90" font-size="6.2" text-anchor="end" dominant-baseline="central" fill="#141414">0</text>
<line x1="53.00" y1="357.88" x2="57.60" y2="357.88" stroke="#222" stroke-width="1.2"/>
<text x="52.20" y="357.88" font-size="6.2" text-anchor="end" dominant-baseline="central" fill="#141414">20</text>
<line x1="53.00" y1="339.86" x2="57.60" y2="339.86" stroke="#222" stroke-width="1.2"/>
<text x="52.20" y="339.86" font-size="6.2" text-anchor="end" dominant-baseline="central" fill="#141414">40</text>
<line x1="53.00" y1="321.84" x2="57.60" y2="321.84" stroke="#222" stroke-width="1.2"/>
<text x="52.20" y="321.84" font-size="6.2" text-anchor="end" dominant-baseline="central" fill="#141414">60</text>
<line x1="53.00" y1="303.82" x2="57.60" y2="303.82" stroke="#222" stroke-width="1.2"/>
<text x="52.20" y="303.82" font-size="6.2" text-anchor="end" dominant-baseline="central" fill="#141414">80</text>
<line x1="53.00" y1="285.80" x2="57.60" y2="285.80" stroke="#222" stroke-width="1.2"/>
<text x="52.20" y="285.80" font-size="6.2" text-anchor="end" dominant-baseline="central" fill="#141414">100</text>
<line x1="57.60" y1="375.90" x2="143.75" y2="375.90" stroke="#222" stroke-width="1.2"/>
<rect x="63.90" y="302.02" width="13.30" height="73.88" fill="#214c98"/>
<line x1="70.55" y1="301.48" x2="70.55" y2="302.02" stroke="#214c98" stroke-width="1.3"/>
<line x1="67.89" y1="301.48" x2="73.21" y2="301.48" stroke="#214c98" stroke-width="1.3"/>
<rect x="80.80" y="333.55" width="13.30" height="42.35" fill="#8c1a1e"/>
<line x1="87.45" y1="326.80" x2="87.45" y2="333.55" stroke="#8c1a1e" stroke-width="1.3"/>
<line x1="84.79" y1="326.80" x2="90.11" y2="326.80" stroke="#8c1a1e" stroke-width="1.3"/>
<text x="87.45" y="325.58" font-size="9" text-anchor="middle" dominant-baseline="central" font-weight="bold" fill="#111" class="st">**</text>
<rect x="106.80" y="302.02" width="13.30" height="73.88" fill="#214c98"/>
<line x1="113.45" y1="301.57" x2="113.45" y2="302.02" stroke="#214c98" stroke-width="1.3"/>
<line x1="110.79" y1="301.57" x2="116.11" y2="301.57" stroke="#214c98" stroke-width="1.3"/>
<rect x="124.00" y="342.56" width="13.30" height="33.34" fill="#8c1a1e"/>
<line x1="130.65" y1="332.65" x2="130.65" y2="342.56" stroke="#8c1a1e" stroke-width="1.3"/>
<line x1="127.99" y1="332.65" x2="133.31" y2="332.65" stroke="#8c1a1e" stroke-width="1.3"/>
<text x="130.65" y="331.43" font-size="9" text-anchor="middle" dominant-baseline="central" font-weight="bold" fill="#111" class="st">*</text>
<text x="60.20" y="289.80" font-size="9.3" text-anchor="start" dominant-baseline="central" fill="#141414" font-weight="bold">2 min</text>
<text x="25.30" y="332.00" font-size="6.85" text-anchor="middle" dominant-baseline="central" fill="#141414" transform="rotate(-90 25.30 332.00)">Mole percent enrichment(%)</text>
<text x="34.20" y="332.00" font-size="6.85" text-anchor="middle" dominant-baseline="central" fill="#141414" transform="rotate(-90 34.20 332.00)">from [U<tspan dy="-2.2" font-size="5.2">13</tspan><tspan dy="2.2">C</tspan><tspan dy="1.6" font-size="5.2">6</tspan><tspan dy="-1.6">]-glucose</tspan></text>
<line x1="57.60" y1="383.15" x2="57.60" y2="472.60" stroke="#222" stroke-width="1.2"/>
<line x1="53.00" y1="472.00" x2="57.60" y2="472.00" stroke="#222" stroke-width="1.2"/>
<text x="52.20" y="472.00" font-size="6.2" text-anchor="end" dominant-baseline="central" fill="#141414">0</text>
<line x1="53.00" y1="454.35" x2="57.60" y2="454.35" stroke="#222" stroke-width="1.2"/>
<text x="52.20" y="454.35" font-size="6.2" text-anchor="end" dominant-baseline="central" fill="#141414">20</text>
<line x1="53.00" y1="436.70" x2="57.60" y2="436.70" stroke="#222" stroke-width="1.2"/>
<text x="52.20" y="436.70" font-size="6.2" text-anchor="end" dominant-baseline="central" fill="#141414">40</text>
<line x1="53.00" y1="419.05" x2="57.60" y2="419.05" stroke="#222" stroke-width="1.2"/>
<text x="52.20" y="419.05" font-size="6.2" text-anchor="end" dominant-baseline="central" fill="#141414">60</text>
<line x1="53.00" y1="401.40" x2="57.60" y2="401.40" stroke="#222" stroke-width="1.2"/>
<text x="52.20" y="401.40" font-size="6.2" text-anchor="end" dominant-baseline="central" fill="#141414">80</text>
<line x1="53.00" y1="383.75" x2="57.60" y2="383.75" stroke="#222" stroke-width="1.2"/>
<text x="52.20" y="383.75" font-size="6.2" text-anchor="end" dominant-baseline="central" fill="#141414">100</text>
<line x1="57.60" y1="472.00" x2="143.75" y2="472.00" stroke="#222" stroke-width="1.2"/>
<rect x="63.90" y="391.69" width="13.30" height="80.31" fill="#214c98"/>
<line x1="70.55" y1="391.34" x2="70.55" y2="391.69" stroke="#214c98" stroke-width="1.3"/>
<line x1="67.89" y1="391.34" x2="73.21" y2="391.34" stroke="#214c98" stroke-width="1.3"/>
<rect x="80.80" y="398.75" width="13.30" height="73.25" fill="#8c1a1e"/>
<line x1="87.45" y1="398.05" x2="87.45" y2="398.75" stroke="#8c1a1e" stroke-width="1.3"/>
<line x1="84.79" y1="398.05" x2="90.11" y2="398.05" stroke="#8c1a1e" stroke-width="1.3"/>
<text x="87.45" y="396.83" font-size="9" text-anchor="middle" dominant-baseline="central" font-weight="bold" fill="#111" class="st">**</text>
<rect x="106.80" y="392.57" width="13.30" height="79.43" fill="#214c98"/>
<line x1="113.45" y1="392.13" x2="113.45" y2="392.57" stroke="#214c98" stroke-width="1.3"/>
<line x1="110.79" y1="392.13" x2="116.11" y2="392.13" stroke="#214c98" stroke-width="1.3"/>
<rect x="124.00" y="426.11" width="13.30" height="45.89" fill="#8c1a1e"/>
<line x1="130.65" y1="425.05" x2="130.65" y2="426.11" stroke="#8c1a1e" stroke-width="1.3"/>
<line x1="127.99" y1="425.05" x2="133.31" y2="425.05" stroke="#8c1a1e" stroke-width="1.3"/>
<text x="130.65" y="423.83" font-size="9" text-anchor="middle" dominant-baseline="central" font-weight="bold" fill="#111" class="st">**</text>
<text x="60.20" y="383.90" font-size="9.3" text-anchor="start" dominant-baseline="central" fill="#141414" font-weight="bold">24h</text>
<text x="25.30" y="427.20" font-size="6.85" text-anchor="middle" dominant-baseline="central" fill="#141414" transform="rotate(-90 25.30 427.20)">Mole percent enrichment(%)</text>
<text x="34.20" y="427.20" font-size="6.85" text-anchor="middle" dominant-baseline="central" fill="#141414" transform="rotate(-90 34.20 427.20)">from [U<tspan dy="-2.2" font-size="5.2">13</tspan><tspan dy="2.2">C</tspan><tspan dy="1.6" font-size="5.2">6</tspan><tspan dy="-1.6">]-glucose</tspan></text>
<rect x="114.20" y="288.40" width="8.10" height="2.40" fill="#214c98"/>
<text x="122.70" y="289.60" font-size="6.6" text-anchor="start" dominant-baseline="central" fill="#141414">KPC</text>
<rect x="114.20" y="294.40" width="8.10" height="2.40" fill="#8c1a1e"/>
<text x="122.70" y="295.60" font-size="6.6" text-anchor="start" dominant-baseline="central" fill="#141414">KPC/p38&#947; KO</text>
<text x="81.00" y="480.50" font-size="7" text-anchor="middle" dominant-baseline="central" fill="#141414">Lactate</text>
<text x="123.50" y="480.50" font-size="7" text-anchor="middle" dominant-baseline="central" fill="#141414">Pyruvate</text>
<text x="0" y="283.3" font-size="17" font-weight="bold" fill="#000" style="stroke:none">G</text>
<line x1="216.60" y1="286.50" x2="216.60" y2="377.40" stroke="#222" stroke-width="1.2"/>
<line x1="211.60" y1="376.80" x2="216.60" y2="376.80" stroke="#222" stroke-width="1.2"/>
<text x="210.90" y="376.80" font-size="5.6" text-anchor="end" dominant-baseline="central" fill="#141414">0.0</text>
<line x1="211.60" y1="346.90" x2="216.60" y2="346.90" stroke="#222" stroke-width="1.2"/>
<text x="210.90" y="346.90" font-size="5.6" text-anchor="end" dominant-baseline="central" fill="#141414">0.5</text>
<line x1="211.60" y1="317.00" x2="216.60" y2="317.00" stroke="#222" stroke-width="1.2"/>
<text x="210.90" y="317.00" font-size="5.6" text-anchor="end" dominant-baseline="central" fill="#141414">1.0</text>
<line x1="211.60" y1="287.10" x2="216.60" y2="287.10" stroke="#222" stroke-width="1.2"/>
<text x="210.90" y="287.10" font-size="5.6" text-anchor="end" dominant-baseline="central" fill="#141414">1.5</text>
<line x1="216.60" y1="376.80" x2="264.00" y2="376.80" stroke="#222" stroke-width="1.2"/>
<rect x="221.80" y="313.41" width="13.00" height="63.39" fill="#214c98"/>
<line x1="228.30" y1="311.62" x2="228.30" y2="313.41" stroke="#214c98" stroke-width="1.3"/>
<line x1="225.70" y1="311.62" x2="230.90" y2="311.62" stroke="#214c98" stroke-width="1.3"/>
<rect x="245.90" y="342.12" width="13.00" height="34.68" fill="#8c1a1e"/>
<line x1="252.40" y1="337.33" x2="252.40" y2="342.12" stroke="#8c1a1e" stroke-width="1.3"/>
<line x1="249.80" y1="337.33" x2="255.00" y2="337.33" stroke="#8c1a1e" stroke-width="1.3"/>
<text x="252.40" y="336.11" font-size="9" text-anchor="middle" dominant-baseline="central" font-weight="bold" fill="#111" class="st">**</text>
<text x="188.30" y="331.95" font-size="6.75" text-anchor="middle" dominant-baseline="central" fill="#141414" transform="rotate(-90 188.30 331.95)">Intracellular abundance per cell</text>
<text x="196.60" y="331.95" font-size="6.8" text-anchor="middle" dominant-baseline="central" fill="#141414" transform="rotate(-90 196.60 331.95)">(relative to KPC cells)</text>
<line x1="309.40" y1="285.30" x2="309.40" y2="376.40" stroke="#222" stroke-width="1.2"/>
<line x1="304.40" y1="375.80" x2="309.40" y2="375.80" stroke="#222" stroke-width="1.2"/>
<text x="303.70" y="375.80" font-size="5.6" text-anchor="end" dominant-baseline="central" fill="#141414">0.0</text>
<line x1="304.40" y1="345.83" x2="309.40" y2="345.83" stroke="#222" stroke-width="1.2"/>
<text x="303.70" y="345.83" font-size="5.6" text-anchor="end" dominant-baseline="central" fill="#141414">0.5</text>
<line x1="304.40" y1="315.87" x2="309.40" y2="315.87" stroke="#222" stroke-width="1.2"/>
<text x="303.70" y="315.87" font-size="5.6" text-anchor="end" dominant-baseline="central" fill="#141414">1.0</text>
<line x1="304.40" y1="285.90" x2="309.40" y2="285.90" stroke="#222" stroke-width="1.2"/>
<text x="303.70" y="285.90" font-size="5.6" text-anchor="end" dominant-baseline="central" fill="#141414">1.5</text>
<line x1="309.40" y1="375.80" x2="357.50" y2="375.80" stroke="#222" stroke-width="1.2"/>
<rect x="314.60" y="317.07" width="13.00" height="58.73" fill="#214c98"/>
<line x1="321.10" y1="316.77" x2="321.10" y2="317.07" stroke="#214c98" stroke-width="1.3"/>
<line x1="318.50" y1="316.77" x2="323.70" y2="316.77" stroke="#214c98" stroke-width="1.3"/>
<rect x="338.70" y="334.45" width="13.00" height="41.35" fill="#8c1a1e"/>
<line x1="345.20" y1="333.55" x2="345.20" y2="334.45" stroke="#8c1a1e" stroke-width="1.3"/>
<line x1="342.60" y1="333.55" x2="347.80" y2="333.55" stroke="#8c1a1e" stroke-width="1.3"/>
<text x="345.20" y="332.33" font-size="9" text-anchor="middle" dominant-baseline="central" font-weight="bold" fill="#111" class="st">**</text>
<text x="281.10" y="330.85" font-size="6.75" text-anchor="middle" dominant-baseline="central" fill="#141414" transform="rotate(-90 281.10 330.85)">Intracellular abundance per cell</text>
<text x="289.40" y="330.85" font-size="6.8" text-anchor="middle" dominant-baseline="central" fill="#141414" transform="rotate(-90 289.40 330.85)">(relative to KPC cells)</text>
<line x1="216.60" y1="382.40" x2="216.60" y2="472.80" stroke="#222" stroke-width="1.2"/>
<line x1="211.60" y1="472.20" x2="216.60" y2="472.20" stroke="#222" stroke-width="1.2"/>
<text x="210.90" y="472.20" font-size="5.6" text-anchor="end" dominant-baseline="central" fill="#141414">0.0</text>
<line x1="211.60" y1="442.47" x2="216.60" y2="442.47" stroke="#222" stroke-width="1.2"/>
<text x="210.90" y="442.47" font-size="5.6" text-anchor="end" dominant-baseline="central" fill="#141414">0.5</text>
<line x1="211.60" y1="412.73" x2="216.60" y2="412.73" stroke="#222" stroke-width="1.2"/>
<text x="210.90" y="412.73" font-size="5.6" text-anchor="end" dominant-baseline="central" fill="#141414">1.0</text>
<line x1="211.60" y1="383.00" x2="216.60" y2="383.00" stroke="#222" stroke-width="1.2"/>
<text x="210.90" y="383.00" font-size="5.6" text-anchor="end" dominant-baseline="central" fill="#141414">1.5</text>
<line x1="216.60" y1="472.20" x2="264.00" y2="472.20" stroke="#222" stroke-width="1.2"/>
<rect x="221.80" y="410.95" width="13.00" height="61.25" fill="#214c98"/>
<line x1="228.30" y1="410.35" x2="228.30" y2="410.95" stroke="#214c98" stroke-width="1.3"/>
<line x1="225.70" y1="410.35" x2="230.90" y2="410.35" stroke="#214c98" stroke-width="1.3"/>
<rect x="245.90" y="453.17" width="13.00" height="19.03" fill="#8c1a1e"/>
<line x1="252.40" y1="451.39" x2="252.40" y2="453.17" stroke="#8c1a1e" stroke-width="1.3"/>
<line x1="249.80" y1="451.39" x2="255.00" y2="451.39" stroke="#8c1a1e" stroke-width="1.3"/>
<text x="252.40" y="450.17" font-size="9" text-anchor="middle" dominant-baseline="central" font-weight="bold" fill="#111" class="st">**</text>
<text x="188.30" y="427.60" font-size="6.75" text-anchor="middle" dominant-baseline="central" fill="#141414" transform="rotate(-90 188.30 427.60)">Intracellular abundance per cell</text>
<text x="196.60" y="427.60" font-size="6.8" text-anchor="middle" dominant-baseline="central" fill="#141414" transform="rotate(-90 196.60 427.60)">(relative to KPC cells)</text>
<text x="241.10" y="480.50" font-size="7" text-anchor="middle" dominant-baseline="central" fill="#141414">Lactate</text>
<line x1="309.40" y1="383.15" x2="309.40" y2="473.10" stroke="#222" stroke-width="1.2"/>
<line x1="304.40" y1="472.50" x2="309.40" y2="472.50" stroke="#222" stroke-width="1.2"/>
<text x="303.70" y="472.50" font-size="5.6" text-anchor="end" dominant-baseline="central" fill="#141414">0.0</text>
<line x1="304.40" y1="442.92" x2="309.40" y2="442.92" stroke="#222" stroke-width="1.2"/>
<text x="303.70" y="442.92" font-size="5.6" text-anchor="end" dominant-baseline="central" fill="#141414">0.5</text>
<line x1="304.40" y1="413.33" x2="309.40" y2="413.33" stroke="#222" stroke-width="1.2"/>
<text x="303.70" y="413.33" font-size="5.6" text-anchor="end" dominant-baseline="central" fill="#141414">1.0</text>
<line x1="304.40" y1="383.75" x2="309.40" y2="383.75" stroke="#222" stroke-width="1.2"/>
<text x="303.70" y="383.75" font-size="5.6" text-anchor="end" dominant-baseline="central" fill="#141414">1.5</text>
<line x1="309.40" y1="472.50" x2="357.50" y2="472.50" stroke="#222" stroke-width="1.2"/>
<rect x="314.60" y="411.56" width="13.00" height="60.94" fill="#214c98"/>
<line x1="321.10" y1="410.97" x2="321.10" y2="411.56" stroke="#214c98" stroke-width="1.3"/>
<line x1="318.50" y1="410.97" x2="323.70" y2="410.97" stroke="#214c98" stroke-width="1.3"/>
<rect x="338.70" y="447.06" width="13.00" height="25.44" fill="#8c1a1e"/>
<line x1="345.20" y1="444.99" x2="345.20" y2="447.06" stroke="#8c1a1e" stroke-width="1.3"/>
<line x1="342.60" y1="444.99" x2="347.80" y2="444.99" stroke="#8c1a1e" stroke-width="1.3"/>
<text x="345.20" y="443.77" font-size="9" text-anchor="middle" dominant-baseline="central" font-weight="bold" fill="#111" class="st">**</text>
<text x="281.10" y="428.12" font-size="6.75" text-anchor="middle" dominant-baseline="central" fill="#141414" transform="rotate(-90 281.10 428.12)">Intracellular abundance per cell</text>
<text x="289.40" y="428.12" font-size="6.8" text-anchor="middle" dominant-baseline="central" fill="#141414" transform="rotate(-90 289.40 428.12)">(relative to KPC cells)</text>
<text x="333.90" y="480.50" font-size="7" text-anchor="middle" dominant-baseline="central" fill="#141414">Pyruvate</text>
<text x="183.5" y="281.3" font-size="17" font-weight="bold" fill="#000" style="stroke:none">H</text>
<line x1="403.80" y1="305.80" x2="403.80" y2="375.60" stroke="#222" stroke-width="1.2"/>
<line x1="397.40" y1="375.00" x2="403.80" y2="375.00" stroke="#222" stroke-width="1.2"/>
<text x="396.10" y="375.00" font-size="8.2" text-anchor="end" dominant-baseline="central" fill="#141414">0</text>
<line x1="397.40" y1="352.13" x2="403.80" y2="352.13" stroke="#222" stroke-width="1.2"/>
<text x="396.10" y="352.13" font-size="8.2" text-anchor="end" dominant-baseline="central" fill="#141414">2</text>
<line x1="397.40" y1="329.27" x2="403.80" y2="329.27" stroke="#222" stroke-width="1.2"/>
<text x="396.10" y="329.27" font-size="8.2" text-anchor="end" dominant-baseline="central" fill="#141414">4</text>
<line x1="397.40" y1="306.40" x2="403.80" y2="306.40" stroke="#222" stroke-width="1.2"/>
<text x="396.10" y="306.40" font-size="8.2" text-anchor="end" dominant-baseline="central" fill="#141414">6</text>
<line x1="403.80" y1="375.00" x2="497.50" y2="375.00" stroke="#222" stroke-width="1.2"/>
<rect x="409.80" y="339.56" width="10.80" height="35.44" fill="#214c98"/>
<line x1="415.20" y1="337.84" x2="415.20" y2="339.56" stroke="#214c98" stroke-width="1.3"/>
<line x1="413.04" y1="337.84" x2="417.36" y2="337.84" stroke="#214c98" stroke-width="1.3"/>
<rect x="421.80" y="319.55" width="10.80" height="55.45" fill="#214c98"/>
<line x1="427.20" y1="317.26" x2="427.20" y2="319.55" stroke="#214c98" stroke-width="1.3"/>
<line x1="425.04" y1="317.26" x2="429.36" y2="317.26" stroke="#214c98" stroke-width="1.3"/>
<rect x="433.60" y="341.84" width="10.80" height="33.16" fill="#214c98"/>
<line x1="439.00" y1="341.27" x2="439.00" y2="341.84" stroke="#214c98" stroke-width="1.3"/>
<line x1="436.84" y1="341.27" x2="441.16" y2="341.27" stroke="#214c98" stroke-width="1.3"/>
<rect x="456.00" y="360.14" width="10.80" height="14.86" fill="#8c1a1e"/>
<line x1="461.40" y1="357.28" x2="461.40" y2="360.14" stroke="#8c1a1e" stroke-width="1.3"/>
<line x1="459.24" y1="357.28" x2="463.56" y2="357.28" stroke="#8c1a1e" stroke-width="1.3"/>
<rect x="467.80" y="361.28" width="10.80" height="13.72" fill="#8c1a1e"/>
<line x1="473.20" y1="358.42" x2="473.20" y2="361.28" stroke="#8c1a1e" stroke-width="1.3"/>
<line x1="471.04" y1="358.42" x2="475.36" y2="358.42" stroke="#8c1a1e" stroke-width="1.3"/>
<rect x="479.60" y="352.13" width="10.80" height="22.87" fill="#8c1a1e"/>
<line x1="485.00" y1="350.42" x2="485.00" y2="352.13" stroke="#8c1a1e" stroke-width="1.3"/>
<line x1="482.84" y1="350.42" x2="487.16" y2="350.42" stroke="#8c1a1e" stroke-width="1.3"/>
<line x1="456.20" y1="349.20" x2="489.20" y2="349.20" stroke="#333" stroke-width="0.9"/>
<text x="472.60" y="348.38" font-size="9" text-anchor="middle" dominant-baseline="central" font-weight="bold" fill="#111" class="st">*</text>
<text x="383.00" y="341.00" font-size="7.9" text-anchor="middle" dominant-baseline="central" fill="#141414" transform="rotate(-90 383.00 341.00)">FDG Uptake(SUV)</text>
<rect x="463.10" y="309.80" width="5.80" height="2.90" fill="#214c98"/>
<text x="469.60" y="311.25" font-size="6.5" text-anchor="start" dominant-baseline="central" fill="#141414">KPC</text>
<rect x="463.10" y="319.00" width="5.80" height="2.90" fill="#8c1a1e"/>
<text x="469.60" y="320.45" font-size="6.5" text-anchor="start" dominant-baseline="central" fill="#141414">KPC/p38&#947; KO</text>
<text x="376.5" y="283.6" font-size="17" font-weight="bold" fill="#000" style="stroke:none">I</text>
<clipPath id="pc1"><rect x="41.4" y="511" width="56.60" height="134.40"/></clipPath>
<g clip-path="url(#pc1)">
<rect x="41.4" y="511" width="56.60" height="134.40" fill="#060606"/>
<line x1="44.9" y1="511" x2="43.9" y2="645.4" stroke="#444" stroke-width="0.8"/>
<line x1="94.5" y1="511" x2="95" y2="645.4" stroke="#444" stroke-width="0.8"/>
<g filter="url(#bl2)"><path d="M68,512.5 C82,512.5 91,532 93,558 C95,588 96,612 89,630 C85,640 81,646 73,646 L65,646 C58,640 52,630 48.5,612 C45.5,590 46,560 48.5,540 C51,522 57,512.5 68,512.5 Z" fill="#505aa8"/></g>
<g filter="url(#bl1)"><path d="M68,512.5 C82,512.5 91,532 93,558 C95,588 96,612 89,630 C85,640 81,646 73,646 L65,646 C58,640 52,630 48.5,612 C45.5,590 46,560 48.5,540 C51,522 57,512.5 68,512.5 Z" fill="#4a6cc4" opacity="0.8"/><ellipse cx="69.00" cy="585.00" rx="20.00" ry="52.00" fill="#3c98d4"/><ellipse cx="67.00" cy="548.00" rx="15.00" ry="35.00" fill="#40b6d2"/><ellipse cx="70.00" cy="600.00" rx="18.00" ry="22.00" fill="#40b6d2"/><ellipse cx="70.00" cy="630.00" rx="10.00" ry="12.00" fill="#3ca8d4"/><ellipse cx="68.00" cy="598.00" rx="12.00" ry="15.00" fill="#72c84a"/><ellipse cx="66.00" cy="548.00" rx="13.00" ry="31.00" fill="#6ac84a"/><ellipse cx="66.00" cy="604.00" rx="5.00" ry="6.00" fill="#c8dc40"/><path d="M58,531 C57.5,524 63,522.5 68,523.5 C74,523 78.5,527 78,533 C77.5,539 74,542 72.5,546 C72.5,556 73,568 70,574 C67,577.5 61,577 59,572 C57.5,565 58,552 59,545 C58.5,540 58,535 58,531 Z" fill="#6ac84a" stroke="#6ac84a" stroke-width="6.80" stroke-linejoin="round"/><path d="M58,531 C57.5,524 63,522.5 68,523.5 C74,523 78.5,527 78,533 C77.5,539 74,542 72.5,546 C72.5,556 73,568 70,574 C67,577.5 61,577 59,572 C57.5,565 58,552 59,545 C58.5,540 58,535 58,531 Z" fill="#eee032" stroke="#eee032" stroke-width="4.00" stroke-linejoin="round"/><path d="M58,531 C57.5,524 63,522.5 68,523.5 C74,523 78.5,527 78,533 C77.5,539 74,542 72.5,546 C72.5,556 73,568 70,574 C67,577.5 61,577 59,572 C57.5,565 58,552 59,545 C58.5,540 58,535 58,531 Z" fill="#f28a22" stroke="#f28a22" stroke-width="1.80" stroke-linejoin="round"/><path d="M58,531 C57.5,524 63,522.5 68,523.5 C74,523 78.5,527 78,533 C77.5,539 74,542 72.5,546 C72.5,556 73,568 70,574 C67,577.5 61,577 59,572 C57.5,565 58,552 59,545 C58.5,540 58,535 58,531 Z" fill="#e02a2a"/><ellipse cx="83.00" cy="592.50" rx="10.70" ry="8.60" fill="#38b4d0"/><ellipse cx="83.00" cy="592.50" rx="8.90" ry="6.80" fill="#6ac84a"/><ellipse cx="83.00" cy="592.50" rx="7.50" ry="5.40" fill="#eee032"/><ellipse cx="83.00" cy="592.50" rx="6.40" ry="4.30" fill="#f28a22"/><ellipse cx="83.00" cy="592.50" rx="5.50" ry="3.40" fill="#e02a2a"/><ellipse cx="70.00" cy="616.00" rx="15.70" ry="10.00" fill="#38b4d0"/><ellipse cx="70.00" cy="616.00" rx="13.90" ry="8.20" fill="#6ac84a"/><ellipse cx="70.00" cy="616.00" rx="12.50" ry="6.80" fill="#eee032"/><ellipse cx="70.00" cy="616.00" rx="11.40" ry="5.70" fill="#f28a22"/><ellipse cx="70.00" cy="616.00" rx="10.50" ry="4.80" fill="#e02a2a"/></g>

</g>
<g transform="translate(94.6,593.5) rotate(0)"><polygon points="0,0 9.2,3.4 6.4,4.9 7.8,6.8 6.6,7.7 5.1,5.9 4.0,9.0" fill="#f8f8f8" stroke="#8c8c8c" stroke-width="0.7" stroke-linejoin="round"/></g>
<clipPath id="pc2"><rect x="105.2" y="511" width="56.40" height="134.40"/></clipPath>
<g clip-path="url(#pc2)">
<rect x="105.2" y="511" width="56.40" height="134.40" fill="#060606"/>
<line x1="108.7" y1="511" x2="107.7" y2="645.4" stroke="#444" stroke-width="0.8"/>
<line x1="158.1" y1="511" x2="158.6" y2="645.4" stroke="#444" stroke-width="0.8"/>
<g filter="url(#bl2)"><path d="M132,513 C148,513 152,540 150,560 C160,565 160,585 150,596 C146,605 140,610 137,612 L137,646 L128,646 L128,612 C118,600 112,585 112,560 C112,535 116,513 132,513 Z" fill="#5458a8"/></g>
<g filter="url(#bl1)"><path d="M132,513 C148,513 152,540 150,560 C160,565 160,585 150,596 C146,605 140,610 137,612 L137,646 L128,646 L128,612 C118,600 112,585 112,560 C112,535 116,513 132,513 Z" fill="#4a66c0" opacity="0.8"/><ellipse cx="126.00" cy="560.00" rx="9.00" ry="44.00" fill="#3ca0d4"/><rect x="119.5" y="518" width="12" height="88" rx="5" fill="#40b4cc"/><rect x="121.5" y="520" width="8" height="80" rx="4" fill="#8ad046"/><rect x="123" y="524" width="5" height="45" rx="2.5" fill="#d8e034"/><ellipse cx="148.50" cy="574.00" rx="12.50" ry="11.00" fill="#40b0cc"/><ellipse cx="148.50" cy="574.00" rx="10.50" ry="9.00" fill="#6ac84a"/><ellipse cx="148.50" cy="574.00" rx="8.30" ry="6.80" fill="#e8dc32"/><ellipse cx="148.50" cy="574.00" rx="6.30" ry="4.80" fill="#f08a22"/><ellipse cx="148.50" cy="574.00" rx="4.50" ry="3.00" fill="#d82a2a"/><ellipse cx="140.00" cy="598.00" rx="4.00" ry="3.00" fill="#c8e030"/><rect x="129.5" y="608" width="6" height="38" fill="#3aa4d8"/></g>

</g>
<g transform="translate(159.1,578.9) rotate(0)"><polygon points="0,0 9.2,3.4 6.4,4.9 7.8,6.8 6.6,7.7 5.1,5.9 4.0,9.0" fill="#f8f8f8" stroke="#8c8c8c" stroke-width="0.7" stroke-linejoin="round"/></g>
<clipPath id="pc3"><rect x="169.4" y="511.5" width="56.20" height="133.90"/></clipPath>
<g clip-path="url(#pc3)">
<rect x="169.4" y="511.5" width="56.20" height="133.90" fill="#060606"/>
<line x1="172.9" y1="511.5" x2="171.9" y2="645.4" stroke="#444" stroke-width="0.8"/>
<line x1="222.1" y1="511.5" x2="222.6" y2="645.4" stroke="#444" stroke-width="0.8"/>
<g filter="url(#bl2)"><path d="M190,514 C205,513 215,540 214,565 C224,575 226,590 214,596 C210,610 200,622 196,626 C188,620 178,600 176,575 C174,550 176,516 190,514 Z" fill="#5058a8"/></g>
<g filter="url(#bl1)"><path d="M190,514 C205,513 215,540 214,565 C224,575 226,590 214,596 C210,610 200,622 196,626 C188,620 178,600 176,575 C174,550 176,516 190,514 Z" fill="#4a66c0" opacity="0.8"/><ellipse cx="190.00" cy="545.00" rx="11.00" ry="28.00" fill="#40b4d0"/><ellipse cx="194.00" cy="597.00" rx="14.00" ry="21.00" fill="#6ac84a"/><ellipse cx="193.00" cy="600.00" rx="10.00" ry="15.00" fill="#dce034"/><ellipse cx="189.50" cy="543.00" rx="9.90" ry="23.40" fill="#6ac84a" transform="rotate(3 189.5 543)"/><ellipse cx="189.50" cy="543.00" rx="8.50" ry="22.00" fill="#eee032" transform="rotate(3 189.5 543)"/><ellipse cx="189.50" cy="543.00" rx="7.40" ry="20.90" fill="#f28a22" transform="rotate(3 189.5 543)"/><ellipse cx="189.50" cy="543.00" rx="6.50" ry="20.00" fill="#e02a2a" transform="rotate(3 189.5 543)"/><ellipse cx="201.30" cy="573.00" rx="4.50" ry="4.20" fill="#1e2e7a"/><ellipse cx="212.00" cy="585.50" rx="9.50" ry="8.10" fill="#60c048"/><ellipse cx="212.00" cy="585.50" rx="7.20" ry="5.80" fill="#e8e030"/><ellipse cx="212.00" cy="585.50" rx="5.40" ry="4.00" fill="#f08a22"/><ellipse cx="212.00" cy="585.50" rx="4.00" ry="2.60" fill="#d82a2a"/><ellipse cx="193.50" cy="599.00" rx="6.70" ry="7.70" fill="#f08a22"/><ellipse cx="193.50" cy="599.00" rx="4.50" ry="5.50" fill="#d82a2a"/></g>

</g>
<g transform="translate(226.3,590.1) rotate(0)"><polygon points="0,0 9.2,3.4 6.4,4.9 7.8,6.8 6.6,7.7 5.1,5.9 4.0,9.0" fill="#f8f8f8" stroke="#8c8c8c" stroke-width="0.7" stroke-linejoin="round"/></g>
<clipPath id="pc4"><rect x="283.7" y="510.6" width="57.00" height="134.80"/></clipPath>
<g clip-path="url(#pc4)">
<rect x="283.7" y="510.6" width="57.00" height="134.80" fill="#060606"/>
<line x1="287.2" y1="510.6" x2="286.2" y2="645.4" stroke="#444" stroke-width="0.8"/>
<line x1="337.2" y1="510.6" x2="337.7" y2="645.4" stroke="#444" stroke-width="0.8"/>
<g filter="url(#bl2)"><path d="M311,512 C325,513 332,540 333,570 C336,600 336,625 322,645 L300,645 C289,625 287,600 288.5,570 C290,540 296,513 311,512 Z" fill="#5a58a4"/></g>
<g filter="url(#bl1)"><path d="M311,512 C325,513 332,540 333,570 C336,600 336,625 322,645 L300,645 C289,625 287,600 288.5,570 C290,540 296,513 311,512 Z" fill="#5a5eac" opacity="0.8"/><ellipse cx="311.00" cy="533.00" rx="17.00" ry="17.00" fill="#3ca8d0"/><ellipse cx="311.00" cy="540.00" rx="14.00" ry="14.00" fill="#5cc04a"/><ellipse cx="311.00" cy="570.00" rx="5.00" ry="19.00" fill="#4ab0c8"/><ellipse cx="311.00" cy="572.00" rx="3.00" ry="15.00" fill="#62c24a"/><ellipse cx="302.00" cy="617.00" rx="13.00" ry="15.00" fill="#3cb0d0"/><ellipse cx="324.00" cy="604.00" rx="9.50" ry="12.00" fill="#3cb0d0"/><ellipse cx="324.00" cy="604.00" rx="7.50" ry="10.00" fill="#62c24a"/><path d="M299.5,530 C299.5,523 306,521.5 312,523.5 C318,521.5 325.5,523 325.5,530 C325.5,540 317,546 311.5,552 C306,546 299.5,540 299.5,530 Z" fill="#eee032" stroke="#eee032" stroke-width="4.00" stroke-linejoin="round"/><path d="M299.5,530 C299.5,523 306,521.5 312,523.5 C318,521.5 325.5,523 325.5,530 C325.5,540 317,546 311.5,552 C306,546 299.5,540 299.5,530 Z" fill="#f28a22" stroke="#f28a22" stroke-width="1.80" stroke-linejoin="round"/><path d="M299.5,530 C299.5,523 306,521.5 312,523.5 C318,521.5 325.5,523 325.5,530 C325.5,540 317,546 311.5,552 C306,546 299.5,540 299.5,530 Z" fill="#e02a2a"/><ellipse cx="326.00" cy="606.00" rx="4.00" ry="5.50" fill="#d8e034"/><ellipse cx="327.50" cy="607.50" rx="2.20" ry="2.80" fill="#f08a22"/><path d="M292.5,610.5 C293,605 299,604 302.5,607.5 C304.5,610 304,612 306,613.5 C309,612 314,614.5 314.5,620 C315,626 311,630 306.5,629 C302,628 300,624 297,621.5 C293.5,618.5 292,615 292.5,610.5 Z" fill="#6ac84a" stroke="#6ac84a" stroke-width="6.80" stroke-linejoin="round"/><path d="M292.5,610.5 C293,605 299,604 302.5,607.5 C304.5,610 304,612 306,613.5 C309,612 314,614.5 314.5,620 C315,626 311,630 306.5,629 C302,628 300,624 297,621.5 C293.5,618.5 292,615 292.5,610.5 Z" fill="#eee032" stroke="#eee032" stroke-width="4.00" stroke-linejoin="round"/><path d="M292.5,610.5 C293,605 299,604 302.5,607.5 C304.5,610 304,612 306,613.5 C309,612 314,614.5 314.5,620 C315,626 311,630 306.5,629 C302,628 300,624 297,621.5 C293.5,618.5 292,615 292.5,610.5 Z" fill="#f28a22" stroke="#f28a22" stroke-width="1.80" stroke-linejoin="round"/><path d="M292.5,610.5 C293,605 299,604 302.5,607.5 C304.5,610 304,612 306,613.5 C309,612 314,614.5 314.5,620 C315,626 311,630 306.5,629 C302,628 300,624 297,621.5 C293.5,618.5 292,615 292.5,610.5 Z" fill="#e02a2a"/></g>

</g>
<g transform="translate(334.1,609.4) rotate(0)"><polygon points="0,0 9.2,3.4 6.4,4.9 7.8,6.8 6.6,7.7 5.1,5.9 4.0,9.0" fill="#f8f8f8" stroke="#8c8c8c" stroke-width="0.7" stroke-linejoin="round"/></g>
<clipPath id="pc5"><rect x="346.1" y="511" width="56.60" height="134.40"/></clipPath>
<g clip-path="url(#pc5)">
<rect x="346.1" y="511" width="56.60" height="134.40" fill="#060606"/>
<line x1="349.6" y1="511" x2="348.6" y2="645.4" stroke="#444" stroke-width="0.8"/>
<line x1="399.2" y1="511" x2="399.7" y2="645.4" stroke="#444" stroke-width="0.8"/>
<g filter="url(#bl2)"><path d="M377,512 C390,512 398,540 398,570 C399,600 397,625 387,645 L367,645 C357,625 354,600 355,570 C355,540 364,512 377,512 Z" fill="#4a6cc0"/></g>
<g filter="url(#bl1)"><path d="M377,512 C390,512 398,540 398,570 C399,600 397,625 387,645 L367,645 C357,625 354,600 355,570 C355,540 364,512 377,512 Z" fill="#3c9cd0" opacity="0.85"/><ellipse cx="366.00" cy="580.00" rx="6.00" ry="22.00" fill="#5c62b4"/><ellipse cx="390.00" cy="585.00" rx="5.00" ry="22.00" fill="#5c62b4"/><ellipse cx="377.00" cy="540.00" rx="20.00" ry="24.00" fill="#5cc04a"/><ellipse cx="377.00" cy="580.00" rx="7.00" ry="30.00" fill="#6ac84a"/><ellipse cx="376.00" cy="616.00" rx="21.00" ry="23.00" fill="#6ac84a"/><ellipse cx="377.00" cy="560.00" rx="3.00" ry="8.00" fill="#e8c030"/><ellipse cx="377.00" cy="564.50" rx="2.00" ry="2.50" fill="#e04020"/><ellipse cx="377.00" cy="585.00" rx="3.00" ry="5.00" fill="#d8dc34"/><path d="M363,531 C363,524 370,522.5 377,524 C384,522.5 391,524 391,531 C391,540 383,545 377.5,550 C372,545 363,540 363,531 Z" fill="#eee032" stroke="#eee032" stroke-width="4.00" stroke-linejoin="round"/><path d="M363,531 C363,524 370,522.5 377,524 C384,522.5 391,524 391,531 C391,540 383,545 377.5,550 C372,545 363,540 363,531 Z" fill="#f28a22" stroke="#f28a22" stroke-width="1.80" stroke-linejoin="round"/><path d="M363,531 C363,524 370,522.5 377,524 C384,522.5 391,524 391,531 C391,540 383,545 377.5,550 C372,545 363,540 363,531 Z" fill="#e02a2a"/><path d="M362,612 C362,605 368,603 373,605 C377,601 384,602 388,606 C391,611 391,624 389,630 C385,635 368,635 363,630 C360,625 361,618 362,612 Z" fill="#eee032" stroke="#eee032" stroke-width="4.00" stroke-linejoin="round"/><path d="M362,612 C362,605 368,603 373,605 C377,601 384,602 388,606 C391,611 391,624 389,630 C385,635 368,635 363,630 C360,625 361,618 362,612 Z" fill="#f28a22" stroke="#f28a22" stroke-width="1.80" stroke-linejoin="round"/><path d="M362,612 C362,605 368,603 373,605 C377,601 384,602 388,606 C391,611 391,624 389,630 C385,635 368,635 363,630 C360,625 361,618 362,612 Z" fill="#e02a2a"/></g>
<polygon points="394,511 402.7,511 402.7,521" fill="#9a9a9a"/>
</g>
<g transform="translate(400,603.7) rotate(0)"><polygon points="0,0 9.2,3.4 6.4,4.9 7.8,6.8 6.6,7.7 5.1,5.9 4.0,9.0" fill="#f8f8f8" stroke="#8c8c8c" stroke-width="0.7" stroke-linejoin="round"/></g>
<clipPath id="pc6"><rect x="410.5" y="511" width="56.00" height="134.40"/></clipPath>
<g clip-path="url(#pc6)">
<rect x="410.5" y="511" width="56.00" height="134.40" fill="#060606"/>
<line x1="414.0" y1="511" x2="413.0" y2="645.4" stroke="#444" stroke-width="0.8"/>
<line x1="463.0" y1="511" x2="463.5" y2="645.4" stroke="#444" stroke-width="0.8"/>
<g filter="url(#bl2)"><path d="M441,513 C450,513 454,530 453,560 C455,575 462,590 462,602 C460,615 445,625 438,632 C428,625 418,612 419,595 C420,580 425,570 424,555 C422,540 432,513 441,513 Z" fill="#5252aa"/></g>
<g filter="url(#bl1)"><path d="M441,513 C450,513 454,530 453,560 C455,575 462,590 462,602 C460,615 445,625 438,632 C428,625 418,612 419,595 C420,580 425,570 424,555 C422,540 432,513 441,513 Z" fill="#5058b4" opacity="0.8"/><ellipse cx="443.00" cy="540.00" rx="10.00" ry="27.00" fill="#3cb0d0"/><ellipse cx="443.00" cy="545.00" rx="7.00" ry="22.00" fill="#6ac84a"/><ellipse cx="438.50" cy="522.70" rx="5.00" ry="5.00" fill="#eee032"/><ellipse cx="438.50" cy="522.70" rx="3.90" ry="3.90" fill="#f28a22"/><ellipse cx="438.50" cy="522.70" rx="3.00" ry="3.00" fill="#e02a2a"/><ellipse cx="445.50" cy="545.50" rx="6.00" ry="14.50" fill="#eee032" transform="rotate(5 445.5 545.5)"/><ellipse cx="445.50" cy="545.50" rx="4.90" ry="13.40" fill="#f28a22" transform="rotate(5 445.5 545.5)"/><ellipse cx="445.50" cy="545.50" rx="4.00" ry="12.50" fill="#e02a2a" transform="rotate(5 445.5 545.5)"/><ellipse cx="440.00" cy="602.00" rx="22.00" ry="19.00" fill="#3cb0d0"/><ellipse cx="442.00" cy="572.00" rx="6.00" ry="14.00" fill="#4ab8c8"/><ellipse cx="442.00" cy="575.00" rx="3.50" ry="10.00" fill="#6ac84a"/><ellipse cx="439.00" cy="603.00" rx="18.50" ry="16.00" fill="#6ac84a"/><ellipse cx="438.50" cy="602.00" rx="15.00" ry="13.00" fill="#eee032"/><ellipse cx="430.00" cy="597.00" rx="8.00" ry="8.00" fill="#eee032"/><ellipse cx="438.50" cy="602.00" rx="13.90" ry="11.90" fill="#f28a22"/><ellipse cx="430.00" cy="597.00" rx="6.90" ry="6.90" fill="#f28a22"/><ellipse cx="438.50" cy="602.00" rx="13.00" ry="11.00" fill="#e02a2a"/><ellipse cx="430.00" cy="597.00" rx="6.00" ry="6.00" fill="#e02a2a"/><rect x="436" y="625" width="4" height="21" fill="#3a80d0"/></g>

</g>
<g transform="translate(465.9,590.3) rotate(0)"><polygon points="0,0 9.2,3.4 6.4,4.9 7.8,6.8 6.6,7.7 5.1,5.9 4.0,9.0" fill="#f8f8f8" stroke="#8c8c8c" stroke-width="0.7" stroke-linejoin="round"/></g>
<rect x="27.9" y="515.1" width="5.8" height="124" rx="2.9" fill="url(#cbar)"/>
<rect x="271.3" y="516.3" width="5.2" height="125" rx="2.6" fill="url(#cbar)"/>
<text x="31" y="499.8" font-size="9.2" text-anchor="middle" dominant-baseline="central" fill="#111">SUV</text>
<text x="30.6" y="509.2" font-size="9.2" text-anchor="middle" dominant-baseline="central" fill="#111">5</text>
<text x="30.6" y="647.3" font-size="9.2" text-anchor="middle" dominant-baseline="central" fill="#111">0</text>
<text x="273.1" y="501.4" font-size="9.2" text-anchor="middle" dominant-baseline="central" fill="#111">SUV</text>
<text x="273.1" y="510.4" font-size="9.2" text-anchor="middle" dominant-baseline="central" fill="#111">5</text>
<text x="273.4" y="646.5" font-size="9.2" text-anchor="middle" dominant-baseline="central" fill="#111">0</text>
<text x="130.7" y="502.7" font-size="11.5" text-anchor="middle" dominant-baseline="central" fill="#111">KPC</text>
<text x="374.7" y="502.3" font-size="11" text-anchor="middle" dominant-baseline="central" fill="#111">KPC/p38&#947; KO</text>
<text x="1.5" y="507.3" font-size="17" font-weight="bold" fill="#000" style="stroke:none">J</text>
<text x="242.3" y="506.6" font-size="17" font-weight="bold" fill="#000" style="stroke:none">K</text>
<g filter="url(#bl05)"><path d="M45,743 Q36.85,750.85 28.7,762.7" stroke="#c49aa2" stroke-width="4.6" fill="none" stroke-linecap="round"/><ellipse cx="28.7" cy="762.7" rx="3.2" ry="2.2" fill="#c49aa2"/><path d="M80,743 Q87.2,751.7 94.4,764.4" stroke="#c49aa2" stroke-width="4.6" fill="none" stroke-linecap="round"/><ellipse cx="94.4" cy="764.4" rx="3.2" ry="2.2" fill="#c49aa2"/><path d="M63,746 L63.3,769.6" stroke="#c49aa2" stroke-width="3.8" fill="none" stroke-linecap="round"/><ellipse cx="75.5" cy="673.5" rx="8" ry="7.5" fill="#e8cccf" stroke="#c49aa2" stroke-width="0.8" transform="rotate(25 75.5 673.5)"/><ellipse cx="44.5" cy="672" rx="3" ry="6" fill="#e8cccf" stroke="#c49aa2" stroke-width="0.8" transform="rotate(-25 44.5 672)"/><path d="M59.10,651.30 C60.15,651.92 60.65,653.38 61.80,655.00 C62.95,656.62 64.88,658.50 66.00,661.00 C67.12,663.50 67.58,666.50 68.50,670.00 C69.42,673.50 70.75,677.33 71.50,682.00 C72.25,686.67 72.38,693.00 73.00,698.00 C73.62,703.00 74.20,707.67 75.20,712.00 C76.20,716.33 78.00,720.33 79.00,724.00 C80.00,727.67 80.70,730.83 81.20,734.00 C81.70,737.17 82.95,740.58 82.00,743.00 C81.05,745.42 78.67,747.42 75.50,748.50 C72.33,749.58 67.22,749.50 63.00,749.50 C58.78,749.50 53.47,749.58 50.20,748.50 C46.93,747.42 44.38,745.42 43.40,743.00 C42.42,740.58 43.95,737.17 44.30,734.00 C44.65,730.83 45.18,727.67 45.50,724.00 C45.82,720.33 46.03,716.33 46.20,712.00 C46.37,707.67 46.45,703.00 46.50,698.00 C46.55,693.00 46.33,686.67 46.50,682.00 C46.67,677.33 47.00,673.50 47.50,670.00 C48.00,666.50 48.55,663.50 49.50,661.00 C50.45,658.50 52.20,656.62 53.20,655.00 C54.20,653.38 54.52,651.92 55.50,651.30 C56.48,650.68 58.05,650.68 59.10,651.30 Z" fill="#ddb6bc" stroke="#c49aa2" stroke-width="1.3"/><ellipse cx="59.8" cy="715.8" rx="8.5" ry="30.4" fill="#e8cccf" opacity="0.3" filter="url(#bl2)"/></g>
<g filter="url(#bl05)"><path d="M108,741 Q103.0,751.6 98,766.2" stroke="#b4848e" stroke-width="4.6" fill="none" stroke-linecap="round"/><ellipse cx="98" cy="766.2" rx="3.2" ry="2.2" fill="#b4848e"/><path d="M142,741 Q147.0,748.2 152,759.4" stroke="#b4848e" stroke-width="4.6" fill="none" stroke-linecap="round"/><ellipse cx="152" cy="759.4" rx="3.2" ry="2.2" fill="#b4848e"/><path d="M126,746 L126.3,770.2" stroke="#b4848e" stroke-width="3.8" fill="none" stroke-linecap="round"/><path d="M113.8,690.7 L104.8,686.7" stroke="#b4848e" stroke-width="3.2" stroke-linecap="round"/><ellipse cx="143" cy="675" rx="6.5" ry="6.5" fill="#d8b0b6" stroke="#b4848e" stroke-width="0.8" transform="rotate(25 143 675)"/><ellipse cx="115.5" cy="672" rx="3.5" ry="5.5" fill="#d8b0b6" stroke="#b4848e" stroke-width="0.8" transform="rotate(-25 115.5 672)"/><path d="M129.50,650.40 C130.65,651.17 131.58,652.90 132.80,655.00 C134.02,657.10 135.77,659.67 136.80,663.00 C137.83,666.33 138.30,670.50 139.00,675.00 C139.70,679.50 140.58,685.00 141.00,690.00 C141.42,695.00 141.08,700.00 141.50,705.00 C141.92,710.00 142.87,715.33 143.50,720.00 C144.13,724.67 144.92,729.33 145.30,733.00 C145.68,736.67 146.87,739.67 145.80,742.00 C144.73,744.33 142.20,746.00 138.90,747.00 C135.60,748.00 130.38,748.00 126.00,748.00 C121.62,748.00 116.10,748.00 112.65,747.00 C109.20,746.00 106.53,744.33 105.30,742.00 C104.07,739.67 104.93,736.67 105.30,733.00 C105.67,729.33 106.63,724.67 107.50,720.00 C108.37,715.33 109.50,710.00 110.50,705.00 C111.50,700.00 112.42,695.00 113.50,690.00 C114.58,685.00 116.05,679.50 117.00,675.00 C117.95,670.50 118.15,666.33 119.20,663.00 C120.25,659.67 122.18,657.10 123.30,655.00 C124.42,652.90 124.87,651.17 125.90,650.40 C126.93,649.63 128.35,649.63 129.50,650.40 Z" fill="#cc9ca5" stroke="#b4848e" stroke-width="1.3"/><ellipse cx="126.0" cy="719.0" rx="9.9" ry="26.1" fill="#d8b0b6" opacity="0.3" filter="url(#bl2)"/></g>
<g filter="url(#bl05)"><path d="M179,744 Q179.6,751.75 180.2,763.5" stroke="#c29aa2" stroke-width="4.6" fill="none" stroke-linecap="round"/><ellipse cx="180.2" cy="763.5" rx="3.2" ry="2.2" fill="#c29aa2"/><path d="M210,744 Q212.6,751.0 215.2,762" stroke="#c29aa2" stroke-width="4.6" fill="none" stroke-linecap="round"/><ellipse cx="215.2" cy="762" rx="3.2" ry="2.2" fill="#c29aa2"/><path d="M196,748 L196.4,765" stroke="#c29aa2" stroke-width="3.8" fill="none" stroke-linecap="round"/><ellipse cx="172.5" cy="676" rx="4" ry="5.5" fill="#e6c8cc" stroke="#c29aa2" stroke-width="0.8" transform="rotate(-25 172.5 676)"/><ellipse cx="206" cy="676" rx="5" ry="5.5" fill="#e6c8cc" stroke="#c29aa2" stroke-width="0.8" transform="rotate(25 206 676)"/><path d="M190.10,652.30 C191.15,652.92 191.60,654.05 192.80,656.00 C194.00,657.95 195.88,660.67 197.30,664.00 C198.72,667.33 200.13,671.67 201.30,676.00 C202.47,680.33 203.52,685.17 204.30,690.00 C205.08,694.83 205.33,700.00 206.00,705.00 C206.67,710.00 207.42,715.33 208.30,720.00 C209.18,724.67 210.63,729.17 211.30,733.00 C211.97,736.83 213.08,740.33 212.30,743.00 C211.53,745.67 209.53,747.83 206.65,749.00 C203.77,750.17 198.97,750.00 195.00,750.00 C191.03,750.00 185.90,750.17 182.85,749.00 C179.80,747.83 177.81,745.67 176.70,743.00 C175.59,740.33 176.20,736.83 176.20,733.00 C176.20,729.17 176.48,724.67 176.70,720.00 C176.92,715.33 177.33,710.00 177.50,705.00 C177.67,700.00 177.58,694.83 177.70,690.00 C177.82,685.17 177.87,680.33 178.20,676.00 C178.53,671.67 178.72,667.33 179.70,664.00 C180.68,660.67 182.97,657.95 184.10,656.00 C185.23,654.05 185.50,652.92 186.50,652.30 C187.50,651.68 189.05,651.68 190.10,652.30 Z" fill="#dab3b9" stroke="#c29aa2" stroke-width="1.3"/><ellipse cx="191.8" cy="720.0" rx="9.1" ry="27.0" fill="#e6c8cc" opacity="0.3" filter="url(#bl2)"/></g>
<g filter="url(#bl05)"><path d="M297,743 Q293.55,751.1 290.1,763.2" stroke="#b48a92" stroke-width="4.6" fill="none" stroke-linecap="round"/><ellipse cx="290.1" cy="763.2" rx="3.2" ry="2.2" fill="#b48a92"/><path d="M322.5,743 Q326.6,746.05 330.7,753.1" stroke="#b48a92" stroke-width="4.6" fill="none" stroke-linecap="round"/><ellipse cx="330.7" cy="753.1" rx="3.2" ry="2.2" fill="#b48a92"/><path d="M311.3,745 L311.3,768.3" stroke="#b48a92" stroke-width="3.8" fill="none" stroke-linecap="round"/><ellipse cx="321" cy="674.3" rx="7" ry="7.5" fill="#d8b4b9" stroke="#b48a92" stroke-width="0.8" transform="rotate(25 321 674.3)"/><ellipse cx="295.3" cy="672" rx="3" ry="5.5" fill="#d8b4b9" stroke="#b48a92" stroke-width="0.8" transform="rotate(-25 295.3 672)"/><path d="M306.30,651.50 C307.38,652.08 308.03,653.25 309.20,655.00 C310.37,656.75 312.03,659.17 313.30,662.00 C314.57,664.83 315.55,667.83 316.80,672.00 C318.05,676.17 319.97,682.33 320.80,687.00 C321.63,691.67 321.38,695.73 321.80,700.00 C322.22,704.27 322.47,708.93 323.30,712.60 C324.13,716.27 325.80,719.10 326.80,722.00 C327.80,724.90 329.72,726.50 329.30,730.00 C328.88,733.50 325.74,740.33 324.30,743.00 C322.86,745.67 322.87,745.33 320.65,746.00 C318.43,746.67 314.38,747.00 311.00,747.00 C307.62,747.00 302.90,746.67 300.35,746.00 C297.80,745.33 296.89,745.67 295.70,743.00 C294.51,740.33 293.53,733.50 293.20,730.00 C292.87,726.50 293.55,724.90 293.70,722.00 C293.85,719.10 294.18,716.27 294.10,712.60 C294.02,708.93 293.48,704.27 293.20,700.00 C292.92,695.73 292.07,691.67 292.40,687.00 C292.73,682.33 294.08,676.17 295.20,672.00 C296.32,667.83 298.25,664.83 299.10,662.00 C299.95,659.17 299.70,656.75 300.30,655.00 C300.90,653.25 301.70,652.08 302.70,651.50 C303.70,650.92 305.22,650.92 306.30,651.50 Z" fill="#cca0a7" stroke="#b48a92" stroke-width="1.3"/><ellipse cx="307.5" cy="717.0" rx="9.2" ry="27.0" fill="#d8b4b9" opacity="0.3" filter="url(#bl2)"/></g>
<g filter="url(#bl05)"><path d="M357,739 Q346.5,745.85 336,756.7" stroke="#b68e95" stroke-width="4.6" fill="none" stroke-linecap="round"/><ellipse cx="336" cy="756.7" rx="3.2" ry="2.2" fill="#b68e95"/><path d="M394,739 Q400.65,746.55 407.3,758.1" stroke="#b68e95" stroke-width="4.6" fill="none" stroke-linecap="round"/><ellipse cx="407.3" cy="758.1" rx="3.2" ry="2.2" fill="#b68e95"/><path d="M376.5,744 L376.4,768.9" stroke="#b68e95" stroke-width="3.8" fill="none" stroke-linecap="round"/><ellipse cx="362.2" cy="674" rx="6.5" ry="5.5" fill="#dab8bc" stroke="#b68e95" stroke-width="0.8" transform="rotate(-25 362.2 674)"/><ellipse cx="397.6" cy="677.3" rx="3.5" ry="4.5" fill="#dab8bc" stroke="#b68e95" stroke-width="0.8" transform="rotate(25 397.6 677.3)"/><path d="M382.20,652.30 C383.23,652.92 383.73,654.05 384.80,656.00 C385.87,657.95 387.43,660.67 388.60,664.00 C389.77,667.33 391.02,671.67 391.80,676.00 C392.58,680.33 393.05,685.17 393.30,690.00 C393.55,694.83 393.05,700.33 393.30,705.00 C393.55,709.67 394.22,713.83 394.80,718.00 C395.38,722.17 396.47,726.50 396.80,730.00 C397.13,733.50 398.03,736.33 396.80,739.00 C395.57,741.67 392.87,744.67 389.40,746.00 C385.93,747.33 380.59,747.00 376.00,747.00 C371.41,747.00 365.57,747.33 361.85,746.00 C358.13,744.67 355.06,741.67 353.70,739.00 C352.34,736.33 353.20,733.50 353.70,730.00 C354.20,726.50 355.78,722.17 356.70,718.00 C357.62,713.83 358.53,709.67 359.20,705.00 C359.87,700.33 359.78,694.83 360.70,690.00 C361.62,685.17 363.03,680.33 364.70,676.00 C366.37,671.67 368.82,667.33 370.70,664.00 C372.58,660.67 374.68,657.95 376.00,656.00 C377.32,654.05 377.57,652.92 378.60,652.30 C379.63,651.68 381.17,651.68 382.20,652.30 Z" fill="#cea4aa" stroke="#b68e95" stroke-width="1.3"/><ellipse cx="376.2" cy="718.5" rx="10.9" ry="25.7" fill="#dab8bc" opacity="0.3" filter="url(#bl2)"/></g>
<g filter="url(#bl05)"><path d="M433,746 Q424.6,750.6 416.2,759.2" stroke="#c0a4a4" stroke-width="4.6" fill="none" stroke-linecap="round"/><ellipse cx="416.2" cy="759.2" rx="3.2" ry="2.2" fill="#c0a4a4"/><path d="M457,746 Q461.4,754.65 465.8,767.3" stroke="#c0a4a4" stroke-width="4.6" fill="none" stroke-linecap="round"/><ellipse cx="465.8" cy="767.3" rx="3.2" ry="2.2" fill="#c0a4a4"/><path d="M447,749 L447.3,770.8" stroke="#c0a4a4" stroke-width="3.8" fill="none" stroke-linecap="round"/><ellipse cx="435.8" cy="673.8" rx="3.5" ry="5.5" fill="#e4d0ce" stroke="#c0a4a4" stroke-width="0.8" transform="rotate(-25 435.8 673.8)"/><ellipse cx="462.8" cy="679.6" rx="6.8" ry="6.2" fill="#e4d0ce" stroke="#c0a4a4" stroke-width="0.8" transform="rotate(25 462.8 679.6)"/><path d="M449.10,653.70 C450.15,654.25 450.60,655.12 451.80,657.00 C453.00,658.88 455.22,661.67 456.30,665.00 C457.38,668.33 457.72,672.83 458.30,677.00 C458.88,681.17 459.30,685.33 459.80,690.00 C460.30,694.67 461.05,700.00 461.30,705.00 C461.55,710.00 461.38,715.33 461.30,720.00 C461.22,724.67 460.97,729.00 460.80,733.00 C460.63,737.00 461.08,741.17 460.30,744.00 C459.52,746.83 458.53,748.83 456.15,750.00 C453.77,751.17 449.51,751.00 446.00,751.00 C442.49,751.00 437.73,751.17 435.10,750.00 C432.47,748.83 431.10,746.83 430.20,744.00 C429.30,741.17 429.90,737.00 429.70,733.00 C429.50,729.00 429.08,724.67 429.00,720.00 C428.92,715.33 428.75,710.00 429.20,705.00 C429.65,700.00 430.82,694.67 431.70,690.00 C432.58,685.33 433.33,681.17 434.50,677.00 C435.67,672.83 437.25,668.33 438.70,665.00 C440.15,661.67 442.07,658.88 443.20,657.00 C444.33,655.12 444.52,654.25 445.50,653.70 C446.48,653.15 448.05,653.15 449.10,653.70 Z" fill="#d8bebc" stroke="#c0a4a4" stroke-width="1.3"/><ellipse cx="445.2" cy="720.5" rx="10.3" ry="27.4" fill="#e4d0ce" opacity="0.3" filter="url(#bl2)"/><circle cx="465.5" cy="736.2" r="4.6" fill="#c0a4a4"/></g>
<g filter="url(#bl05)" transform="rotate(10 415.2 410.9)"><ellipse cx="415.2" cy="410.9" rx="8.700000000000001" ry="8.4" fill="#f0dcd8"/><ellipse cx="415.2" cy="410.9" rx="7.9" ry="7.6" fill="#d98f80"/><ellipse cx="413.62" cy="412.04" rx="3.56" ry="3.04" fill="#b8665c" opacity="0.55"/><ellipse cx="417.57" cy="408.24" rx="2.37" ry="1.90" fill="#f0c8c0" opacity="0.6"/></g>
<g filter="url(#bl05)" transform="rotate(-25 436.1 413)"><ellipse cx="436.1" cy="413" rx="7.1" ry="7.8" fill="#f0dcd8"/><ellipse cx="436.1" cy="413" rx="6.3" ry="7" fill="#d68a7c"/><ellipse cx="434.84" cy="414.05" rx="2.83" ry="2.80" fill="#b8665a" opacity="0.55"/><ellipse cx="437.99" cy="410.55" rx="1.89" ry="1.75" fill="#f0c8c0" opacity="0.6"/></g>
<g filter="url(#bl05)" transform="rotate(0 456.8 413.8)"><ellipse cx="456.8" cy="413.8" rx="6.3999999999999995" ry="5.7" fill="#f0dcd8"/><ellipse cx="456.8" cy="413.8" rx="5.6" ry="4.9" fill="#e8c0a4"/><ellipse cx="455.68" cy="414.54" rx="2.52" ry="1.96" fill="#d8a088" opacity="0.55"/><ellipse cx="458.48" cy="412.09" rx="1.68" ry="1.23" fill="#f0c8c0" opacity="0.6"/></g>
<g filter="url(#bl05)" transform="rotate(0 413.8 430.4)"><ellipse cx="413.8" cy="430.4" rx="8.200000000000001" ry="8.8" fill="#f0dcd8"/><ellipse cx="413.8" cy="430.4" rx="7.4" ry="8" fill="#d88e80"/><ellipse cx="412.32" cy="431.60" rx="3.33" ry="3.20" fill="#b86a5e" opacity="0.55"/><ellipse cx="416.02" cy="427.60" rx="2.22" ry="2.00" fill="#f0c8c0" opacity="0.6"/></g>
<g filter="url(#bl05)" transform="rotate(30 436.1 432.5)"><ellipse cx="436.1" cy="432.5" rx="6.1" ry="7.8" fill="#f0dcd8"/><ellipse cx="436.1" cy="432.5" rx="5.3" ry="7" fill="#dc9a84"/><ellipse cx="435.04" cy="433.55" rx="2.38" ry="2.80" fill="#c07a66" opacity="0.55"/><ellipse cx="437.69" cy="430.05" rx="1.59" ry="1.75" fill="#f0c8c0" opacity="0.6"/></g>
<g filter="url(#bl05)" transform="rotate(0 454.9 432.8)"><ellipse cx="454.9" cy="432.8" rx="6.3" ry="5.7" fill="#f0dcd8"/><ellipse cx="454.9" cy="432.8" rx="5.5" ry="4.9" fill="#dc9888"/><ellipse cx="453.80" cy="433.54" rx="2.48" ry="1.96" fill="#c27868" opacity="0.55"/><ellipse cx="456.55" cy="431.09" rx="1.65" ry="1.23" fill="#f0c8c0" opacity="0.6"/></g>
<rect x="401" y="444.5" width="62.5" height="8" fill="#f4e0e4"/>
<line x1="400.8" y1="444.3" x2="463.5" y2="444.3" stroke="#b4a8ac" stroke-width="0.9"/>
<line x1="405.30" y1="452.3" x2="405.30" y2="448.70" stroke="#c8aab0" stroke-width="0.45"/>
<line x1="406.85" y1="452.3" x2="406.85" y2="450.80" stroke="#c8aab0" stroke-width="0.45"/>
<line x1="408.40" y1="452.3" x2="408.40" y2="450.80" stroke="#c8aab0" stroke-width="0.45"/>
<line x1="409.95" y1="452.3" x2="409.95" y2="450.80" stroke="#c8aab0" stroke-width="0.45"/>
<line x1="411.50" y1="452.3" x2="411.50" y2="450.80" stroke="#c8aab0" stroke-width="0.45"/>
<line x1="413.05" y1="452.3" x2="413.05" y2="449.70" stroke="#c8aab0" stroke-width="0.45"/>
<line x1="414.60" y1="452.3" x2="414.60" y2="450.80" stroke="#c8aab0" stroke-width="0.45"/>
<line x1="416.15" y1="452.3" x2="416.15" y2="450.80" stroke="#c8aab0" stroke-width="0.45"/>
<line x1="417.70" y1="452.3" x2="417.70" y2="450.80" stroke="#c8aab0" stroke-width="0.45"/>
<line x1="419.25" y1="452.3" x2="419.25" y2="450.80" stroke="#c8aab0" stroke-width="0.45"/>
<line x1="420.80" y1="452.3" x2="420.80" y2="448.70" stroke="#c8aab0" stroke-width="0.45"/>
<line x1="422.35" y1="452.3" x2="422.35" y2="450.80" stroke="#c8aab0" stroke-width="0.45"/>
<line x1="423.90" y1="452.3" x2="423.90" y2="450.80" stroke="#c8aab0" stroke-width="0.45"/>
<line x1="425.45" y1="452.3" x2="425.45" y2="450.80" stroke="#c8aab0" stroke-width="0.45"/>
<line x1="427.00" y1="452.3" x2="427.00" y2="450.80" stroke="#c8aab0" stroke-width="0.45"/>
<line x1="428.55" y1="452.3" x2="428.55" y2="449.70" stroke="#c8aab0" stroke-width="0.45"/>
<line x1="430.10" y1="452.3" x2="430.10" y2="450.80" stroke="#c8aab0" stroke-width="0.45"/>
<line x1="431.65" y1="452.3" x2="431.65" y2="450.80" stroke="#c8aab0" stroke-width="0.45"/>
<line x1="433.20" y1="452.3" x2="433.20" y2="450.80" stroke="#c8aab0" stroke-width="0.45"/>
<line x1="434.75" y1="452.3" x2="434.75" y2="450.80" stroke="#c8aab0" stroke-width="0.45"/>
<line x1="436.30" y1="452.3" x2="436.30" y2="448.70" stroke="#c8aab0" stroke-width="0.45"/>
<line x1="437.85" y1="452.3" x2="437.85" y2="450.80" stroke="#c8aab0" stroke-width="0.45"/>
<line x1="439.40" y1="452.3" x2="439.40" y2="450.80" stroke="#c8aab0" stroke-width="0.45"/>
<line x1="440.95" y1="452.3" x2="440.95" y2="450.80" stroke="#c8aab0" stroke-width="0.45"/>
<line x1="442.50" y1="452.3" x2="442.50" y2="450.80" stroke="#c8aab0" stroke-width="0.45"/>
<line x1="444.05" y1="452.3" x2="444.05" y2="449.70" stroke="#c8aab0" stroke-width="0.45"/>
<line x1="445.60" y1="452.3" x2="445.60" y2="450.80" stroke="#c8aab0" stroke-width="0.45"/>
<line x1="447.15" y1="452.3" x2="447.15" y2="450.80" stroke="#c8aab0" stroke-width="0.45"/>
<line x1="448.70" y1="452.3" x2="448.70" y2="450.80" stroke="#c8aab0" stroke-width="0.45"/>
<line x1="450.25" y1="452.3" x2="450.25" y2="450.80" stroke="#c8aab0" stroke-width="0.45"/>
<line x1="451.80" y1="452.3" x2="451.80" y2="448.70" stroke="#c8aab0" stroke-width="0.45"/>
<line x1="453.35" y1="452.3" x2="453.35" y2="450.80" stroke="#c8aab0" stroke-width="0.45"/>
<line x1="454.90" y1="452.3" x2="454.90" y2="450.80" stroke="#c8aab0" stroke-width="0.45"/>
<line x1="456.45" y1="452.3" x2="456.45" y2="450.80" stroke="#c8aab0" stroke-width="0.45"/>
<line x1="458.00" y1="452.3" x2="458.00" y2="450.80" stroke="#c8aab0" stroke-width="0.45"/>
<line x1="459.55" y1="452.3" x2="459.55" y2="449.70" stroke="#c8aab0" stroke-width="0.45"/>
<line x1="461.10" y1="452.3" x2="461.10" y2="450.80" stroke="#c8aab0" stroke-width="0.45"/>
<line x1="462.65" y1="452.3" x2="462.65" y2="450.80" stroke="#c8aab0" stroke-width="0.45"/>
<text x="405.1" y="458.6" font-size="6.6" text-anchor="middle" dominant-baseline="central" fill="#8a8a8a" style="stroke:none">0</text>
<text x="421" y="458.6" font-size="6.6" text-anchor="middle" dominant-baseline="central" fill="#8a8a8a" style="stroke:none">1</text>
<text x="436.6" y="458.6" font-size="6.6" text-anchor="middle" dominant-baseline="central" fill="#8a8a8a" style="stroke:none">2</text>
<text x="451.3" y="458.6" font-size="6.6" text-anchor="middle" dominant-baseline="central" fill="#8a8a8a" style="stroke:none">3</text>
<text x="423.2" y="455.6" font-size="3.2" fill="#8a8a8a" style="stroke:none">cm</text>
<text x="468" y="414.5" font-size="8.1" dominant-baseline="central" fill="#111">KPC</text>
<text x="468" y="431.3" font-size="8.1" dominant-baseline="central" fill="#111">KPC/p38&#947; KO</text>
</svg>
</body></html>
